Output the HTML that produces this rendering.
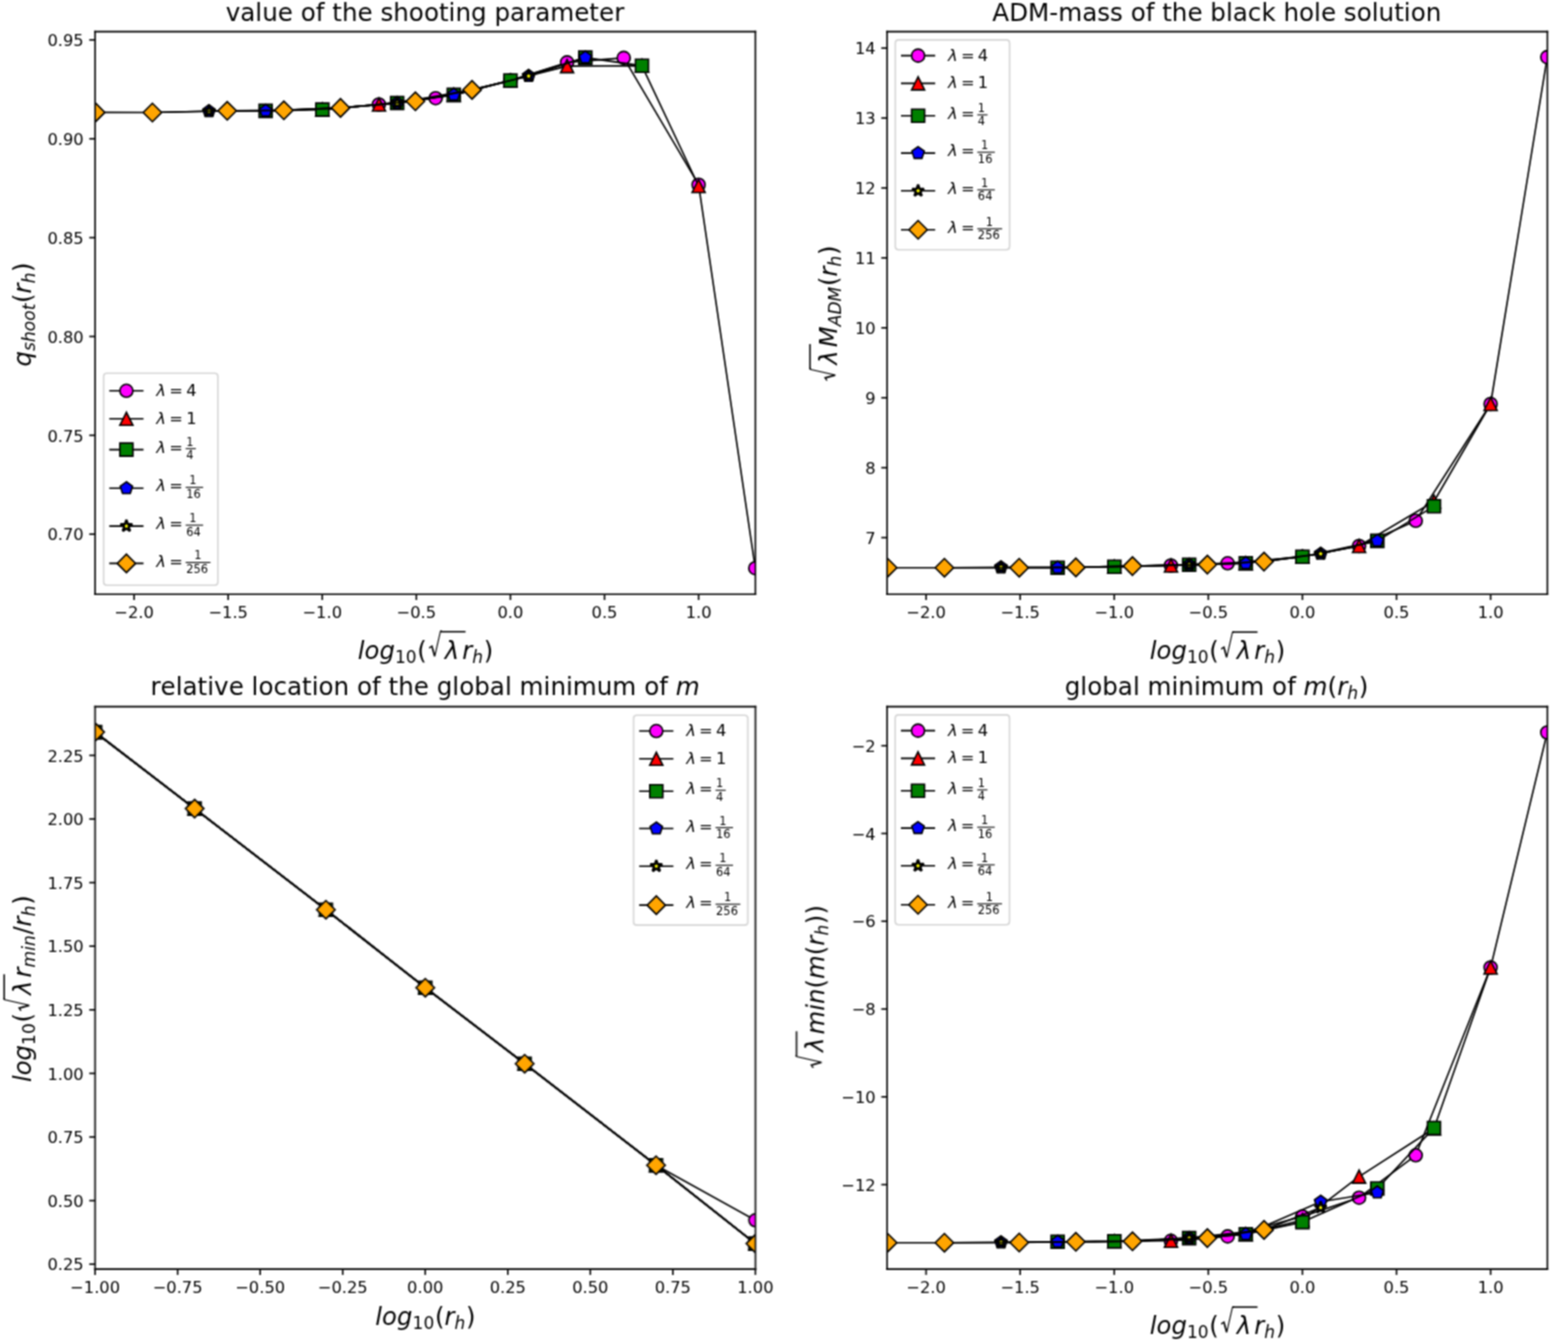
<!DOCTYPE html>
<html><head><meta charset="utf-8"><title>figure</title>
<style>html,body{margin:0;padding:0;background:#fff;}body{width:1550px;height:1340px;overflow:hidden;}svg{display:block;}#fig{width:1550px;height:1340px;}</style>
</head><body><div id="fig">
<svg width="1550" height="1340" viewBox="0 0 968.75 837.5" version="1.1">
<defs>
<style type="text/css">*{stroke-linejoin: round; stroke-linecap: butt}</style>
</defs>
<filter id="soft" x="0" y="0" width="968.75" height="837.5" filterUnits="userSpaceOnUse" color-interpolation-filters="sRGB"><feConvolveMatrix order="3" kernelMatrix="1 2 1 2 4 2 1 2 1" divisor="16" edgeMode="duplicate" kernelUnitLength="0.625"/></filter>
<g id="figure_1" filter="url(#soft)">
<g id="patch_1">
<path d="M 0 837.5 
L 968.75 837.5 
L 968.75 0 
L 0 0 
z
" style="fill: #ffffff"/>
</g>
<g id="axes_1">
<g id="patch_2">
<path d="M 59.4375 371.375 
L 472.125 371.375 
L 472.125 19.75 
L 59.4375 19.75 
z
" style="fill: #ffffff"/>
</g>
<g id="matplotlib.axis_1">
<g id="xtick_1">
<g id="line2d_1">
<defs>
<path id="m3d13556aa7" d="M 0 0 
L 0 3.625 
" style="stroke: #000000"/>
</defs>
<g>
<use href="#m3d13556aa7" x="83.805938" y="371.375" style="stroke: #000000"/>
</g>
</g>
<g id="text_1">
<text style="font-size: 10.1875px; font-family: 'DejaVu Sans', 'Liberation Sans', sans-serif; text-anchor: middle" x="83.805938" y="386.240908" transform="rotate(-0 83.805938 386.240908)">−2.0</text>
</g>
</g>
<g id="xtick_2">
<g id="line2d_2">
<g>
<use href="#m3d13556aa7" x="142.610085" y="371.375" style="stroke: #000000"/>
</g>
</g>
<g id="text_2">
<text style="font-size: 10.1875px; font-family: 'DejaVu Sans', 'Liberation Sans', sans-serif; text-anchor: middle" x="142.610085" y="386.240908" transform="rotate(-0 142.610085 386.240908)">−1.5</text>
</g>
</g>
<g id="xtick_3">
<g id="line2d_3">
<g>
<use href="#m3d13556aa7" x="201.414231" y="371.375" style="stroke: #000000"/>
</g>
</g>
<g id="text_3">
<text style="font-size: 10.1875px; font-family: 'DejaVu Sans', 'Liberation Sans', sans-serif; text-anchor: middle" x="201.414231" y="386.240908" transform="rotate(-0 201.414231 386.240908)">−1.0</text>
</g>
</g>
<g id="xtick_4">
<g id="line2d_4">
<g>
<use href="#m3d13556aa7" x="260.218378" y="371.375" style="stroke: #000000"/>
</g>
</g>
<g id="text_4">
<text style="font-size: 10.1875px; font-family: 'DejaVu Sans', 'Liberation Sans', sans-serif; text-anchor: middle" x="260.218378" y="386.240908" transform="rotate(-0 260.218378 386.240908)">−0.5</text>
</g>
</g>
<g id="xtick_5">
<g id="line2d_5">
<g>
<use href="#m3d13556aa7" x="319.022524" y="371.375" style="stroke: #000000"/>
</g>
</g>
<g id="text_5">
<text style="font-size: 10.1875px; font-family: 'DejaVu Sans', 'Liberation Sans', sans-serif; text-anchor: middle" x="319.022524" y="386.240908" transform="rotate(-0 319.022524 386.240908)">0.0</text>
</g>
</g>
<g id="xtick_6">
<g id="line2d_6">
<g>
<use href="#m3d13556aa7" x="377.826671" y="371.375" style="stroke: #000000"/>
</g>
</g>
<g id="text_6">
<text style="font-size: 10.1875px; font-family: 'DejaVu Sans', 'Liberation Sans', sans-serif; text-anchor: middle" x="377.826671" y="386.240908" transform="rotate(-0 377.826671 386.240908)">0.5</text>
</g>
</g>
<g id="xtick_7">
<g id="line2d_7">
<g>
<use href="#m3d13556aa7" x="436.630817" y="371.375" style="stroke: #000000"/>
</g>
</g>
<g id="text_7">
<text style="font-size: 10.1875px; font-family: 'DejaVu Sans', 'Liberation Sans', sans-serif; text-anchor: middle" x="436.630817" y="386.240908" transform="rotate(-0 436.630817 386.240908)">1.0</text>
</g>
</g>
</g>
<g id="matplotlib.axis_2">
<g id="ytick_1">
<g id="line2d_8">
<defs>
<path id="m3894075787" d="M 0 0 
L -3.625 0 
" style="stroke: #000000"/>
</defs>
<g>
<use href="#m3894075787" x="59.4375" y="333.875" style="stroke: #000000"/>
</g>
</g>
<g id="text_8">
<text style="font-size: 10.1875px; font-family: 'DejaVu Sans', 'Liberation Sans', sans-serif; text-anchor: end" x="52.3125" y="337.745454" transform="rotate(-0 52.3125 337.745454)">0.70</text>
</g>
</g>
<g id="ytick_2">
<g id="line2d_9">
<g>
<use href="#m3894075787" x="59.4375" y="272.0875" style="stroke: #000000"/>
</g>
</g>
<g id="text_9">
<text style="font-size: 10.1875px; font-family: 'DejaVu Sans', 'Liberation Sans', sans-serif; text-anchor: end" x="52.3125" y="275.957954" transform="rotate(-0 52.3125 275.957954)">0.75</text>
</g>
</g>
<g id="ytick_3">
<g id="line2d_10">
<g>
<use href="#m3894075787" x="59.4375" y="210.3" style="stroke: #000000"/>
</g>
</g>
<g id="text_10">
<text style="font-size: 10.1875px; font-family: 'DejaVu Sans', 'Liberation Sans', sans-serif; text-anchor: end" x="52.3125" y="214.170454" transform="rotate(-0 52.3125 214.170454)">0.80</text>
</g>
</g>
<g id="ytick_4">
<g id="line2d_11">
<g>
<use href="#m3894075787" x="59.4375" y="148.5125" style="stroke: #000000"/>
</g>
</g>
<g id="text_11">
<text style="font-size: 10.1875px; font-family: 'DejaVu Sans', 'Liberation Sans', sans-serif; text-anchor: end" x="52.3125" y="152.382954" transform="rotate(-0 52.3125 152.382954)">0.85</text>
</g>
</g>
<g id="ytick_5">
<g id="line2d_12">
<g>
<use href="#m3894075787" x="59.4375" y="86.725" style="stroke: #000000"/>
</g>
</g>
<g id="text_12">
<text style="font-size: 10.1875px; font-family: 'DejaVu Sans', 'Liberation Sans', sans-serif; text-anchor: end" x="52.3125" y="90.595454" transform="rotate(-0 52.3125 90.595454)">0.90</text>
</g>
</g>
<g id="ytick_6">
<g id="line2d_13">
<g>
<use href="#m3894075787" x="59.4375" y="24.9375" style="stroke: #000000"/>
</g>
</g>
<g id="text_13">
<text style="font-size: 10.1875px; font-family: 'DejaVu Sans', 'Liberation Sans', sans-serif; text-anchor: end" x="52.3125" y="28.807954" transform="rotate(-0 52.3125 28.807954)">0.95</text>
</g>
</g>
</g>
<g id="line2d_14">
<path d="M 236.817855 65.3125 
L 272.276756 61.375 
L 319.022524 50.3125 
L 354.426148 39 
L 389.829772 36.1875 
L 436.630817 115.4375 
L 472.034441 355.125 
" clip-path="url(#p4364399349)" style="fill: none; stroke: #000000; stroke-linecap: square"/>
<defs>
<path id="m82f85be40a" d="M 0 4.0625 
C 1.077388 4.0625 2.110793 3.634449 2.872621 2.872621 
C 3.634449 2.110793 4.0625 1.077388 4.0625 0 
C 4.0625 -1.077388 3.634449 -2.110793 2.872621 -2.872621 
C 2.110793 -3.634449 1.077388 -4.0625 0 -4.0625 
C -1.077388 -4.0625 -2.110793 -3.634449 -2.872621 -2.872621 
C -3.634449 -2.110793 -4.0625 -1.077388 -4.0625 0 
C -4.0625 1.077388 -3.634449 2.110793 -2.872621 2.872621 
C -2.110793 3.634449 -1.077388 4.0625 0 4.0625 
z
" style="stroke: #000000"/>
</defs>
<g clip-path="url(#p4364399349)">
<use href="#m82f85be40a" x="236.817855" y="65.3125" style="fill: #ff00ff; stroke: #000000"/>
<use href="#m82f85be40a" x="272.276756" y="61.375" style="fill: #ff00ff; stroke: #000000"/>
<use href="#m82f85be40a" x="319.022524" y="50.3125" style="fill: #ff00ff; stroke: #000000"/>
<use href="#m82f85be40a" x="354.426148" y="39" style="fill: #ff00ff; stroke: #000000"/>
<use href="#m82f85be40a" x="389.829772" y="36.1875" style="fill: #ff00ff; stroke: #000000"/>
<use href="#m82f85be40a" x="436.630817" y="115.4375" style="fill: #ff00ff; stroke: #000000"/>
<use href="#m82f85be40a" x="472.034441" y="355.125" style="fill: #ff00ff; stroke: #000000"/>
</g>
</g>
<g id="line2d_15">
<path d="M 201.414231 68.5 
L 236.873132 65.3125 
L 283.6189 59.3125 
L 319.022524 50.3125 
L 354.426148 41.3125 
L 401.227193 41.125 
L 436.630817 116.25 
" clip-path="url(#p4364399349)" style="fill: none; stroke: #000000; stroke-linecap: square"/>
<defs>
<path id="m113b32c53b" d="M 0 -4.0625 
L -4.0625 4.0625 
L 4.0625 4.0625 
z
" style="stroke: #000000; stroke-linejoin: miter"/>
</defs>
<g clip-path="url(#p4364399349)">
<use href="#m113b32c53b" x="201.414231" y="68.5" style="fill: #ff0000; stroke: #000000; stroke-linejoin: miter"/>
<use href="#m113b32c53b" x="236.873132" y="65.3125" style="fill: #ff0000; stroke: #000000; stroke-linejoin: miter"/>
<use href="#m113b32c53b" x="283.6189" y="59.3125" style="fill: #ff0000; stroke: #000000; stroke-linejoin: miter"/>
<use href="#m113b32c53b" x="319.022524" y="50.3125" style="fill: #ff0000; stroke: #000000; stroke-linejoin: miter"/>
<use href="#m113b32c53b" x="354.426148" y="41.3125" style="fill: #ff0000; stroke: #000000; stroke-linejoin: miter"/>
<use href="#m113b32c53b" x="401.227193" y="41.125" style="fill: #ff0000; stroke: #000000; stroke-linejoin: miter"/>
<use href="#m113b32c53b" x="436.630817" y="116.25" style="fill: #ff0000; stroke: #000000; stroke-linejoin: miter"/>
</g>
</g>
<g id="line2d_16">
<path d="M 166.010607 69.3125 
L 201.469508 68.5 
L 248.215276 64.375 
L 283.6189 59.3125 
L 319.022524 50.3125 
L 365.823569 36 
L 401.227193 41.125 
" clip-path="url(#p4364399349)" style="fill: none; stroke: #000000; stroke-linecap: square"/>
<defs>
<path id="m8e54c1c84e" d="M -4.0625 4.0625 
L 4.0625 4.0625 
L 4.0625 -4.0625 
L -4.0625 -4.0625 
z
" style="stroke: #000000; stroke-linejoin: miter"/>
</defs>
<g clip-path="url(#p4364399349)">
<use href="#m8e54c1c84e" x="166.010607" y="69.3125" style="fill: #008000; stroke: #000000; stroke-linejoin: miter"/>
<use href="#m8e54c1c84e" x="201.469508" y="68.5" style="fill: #008000; stroke: #000000; stroke-linejoin: miter"/>
<use href="#m8e54c1c84e" x="248.215276" y="64.375" style="fill: #008000; stroke: #000000; stroke-linejoin: miter"/>
<use href="#m8e54c1c84e" x="283.6189" y="59.3125" style="fill: #008000; stroke: #000000; stroke-linejoin: miter"/>
<use href="#m8e54c1c84e" x="319.022524" y="50.3125" style="fill: #008000; stroke: #000000; stroke-linejoin: miter"/>
<use href="#m8e54c1c84e" x="365.823569" y="36" style="fill: #008000; stroke: #000000; stroke-linejoin: miter"/>
<use href="#m8e54c1c84e" x="401.227193" y="41.125" style="fill: #008000; stroke: #000000; stroke-linejoin: miter"/>
</g>
</g>
<g id="line2d_17">
<path d="M 130.606983 69.5 
L 166.065884 69.3125 
L 212.811652 67.4375 
L 248.215276 64.375 
L 283.6189 59.3125 
L 330.419945 47.5 
L 365.823569 36 
" clip-path="url(#p4364399349)" style="fill: none; stroke: #000000; stroke-linecap: square"/>
<defs>
<path id="m39f650da0f" d="M 0 -4.0625 
L -3.863667 -1.255382 
L -2.387878 3.286632 
L 2.387878 3.286632 
L 3.863667 -1.255382 
z
" style="stroke: #000000; stroke-linejoin: miter"/>
</defs>
<g clip-path="url(#p4364399349)">
<use href="#m39f650da0f" x="130.606983" y="69.5" style="fill: #0000ff; stroke: #000000; stroke-linejoin: miter"/>
<use href="#m39f650da0f" x="166.065884" y="69.3125" style="fill: #0000ff; stroke: #000000; stroke-linejoin: miter"/>
<use href="#m39f650da0f" x="212.811652" y="67.4375" style="fill: #0000ff; stroke: #000000; stroke-linejoin: miter"/>
<use href="#m39f650da0f" x="248.215276" y="64.375" style="fill: #0000ff; stroke: #000000; stroke-linejoin: miter"/>
<use href="#m39f650da0f" x="283.6189" y="59.3125" style="fill: #0000ff; stroke: #000000; stroke-linejoin: miter"/>
<use href="#m39f650da0f" x="330.419945" y="47.5" style="fill: #0000ff; stroke: #000000; stroke-linejoin: miter"/>
<use href="#m39f650da0f" x="365.823569" y="36" style="fill: #0000ff; stroke: #000000; stroke-linejoin: miter"/>
</g>
</g>
<g id="line2d_18">
<path d="M 95.20336 70.3125 
L 130.66226 69.5 
L 177.408029 68.9375 
L 212.811652 67.4375 
L 248.215276 64.375 
L 295.016322 56.1875 
L 330.419945 47.5 
" clip-path="url(#p4364399349)" style="fill: none; stroke: #000000; stroke-linecap: square"/>
<defs>
<path id="maf8f67a855" d="M 0 -3.875 
L -0.869992 -1.197441 
L -3.685344 -1.197441 
L -1.407676 0.457382 
L -2.277668 3.134941 
L -0 1.480118 
L 2.277668 3.134941 
L 1.407676 0.457382 
L 3.685344 -1.197441 
L 0.869992 -1.197441 
z
" style="stroke: #000000; stroke-width: 1.5; stroke-linejoin: bevel"/>
</defs>
<g clip-path="url(#p4364399349)">
<use href="#maf8f67a855" x="95.20336" y="70.3125" style="fill: #ffff00; stroke: #000000; stroke-width: 1.5; stroke-linejoin: bevel"/>
<use href="#maf8f67a855" x="130.66226" y="69.5" style="fill: #ffff00; stroke: #000000; stroke-width: 1.5; stroke-linejoin: bevel"/>
<use href="#maf8f67a855" x="177.408029" y="68.9375" style="fill: #ffff00; stroke: #000000; stroke-width: 1.5; stroke-linejoin: bevel"/>
<use href="#maf8f67a855" x="212.811652" y="67.4375" style="fill: #ffff00; stroke: #000000; stroke-width: 1.5; stroke-linejoin: bevel"/>
<use href="#maf8f67a855" x="248.215276" y="64.375" style="fill: #ffff00; stroke: #000000; stroke-width: 1.5; stroke-linejoin: bevel"/>
<use href="#maf8f67a855" x="295.016322" y="56.1875" style="fill: #ffff00; stroke: #000000; stroke-width: 1.5; stroke-linejoin: bevel"/>
<use href="#maf8f67a855" x="330.419945" y="47.5" style="fill: #ffff00; stroke: #000000; stroke-width: 1.5; stroke-linejoin: bevel"/>
</g>
</g>
<g id="line2d_19">
<path d="M 59.799736 70.25 
L 95.258636 70.3125 
L 142.004405 69.25 
L 177.408029 68.9375 
L 212.811652 67.4375 
L 259.612698 63.3125 
L 295.016322 56.1875 
" clip-path="url(#p4364399349)" style="fill: none; stroke: #000000; stroke-linecap: square"/>
<defs>
<path id="ma61c840edb" d="M -0 5.745243 
L 5.745243 0 
L 0 -5.745243 
L -5.745243 -0 
z
" style="stroke: #000000; stroke-linejoin: miter"/>
</defs>
<g clip-path="url(#p4364399349)">
<use href="#ma61c840edb" x="59.799736" y="70.25" style="fill: #ffa500; stroke: #000000; stroke-linejoin: miter"/>
<use href="#ma61c840edb" x="95.258636" y="70.3125" style="fill: #ffa500; stroke: #000000; stroke-linejoin: miter"/>
<use href="#ma61c840edb" x="142.004405" y="69.25" style="fill: #ffa500; stroke: #000000; stroke-linejoin: miter"/>
<use href="#ma61c840edb" x="177.408029" y="68.9375" style="fill: #ffa500; stroke: #000000; stroke-linejoin: miter"/>
<use href="#ma61c840edb" x="212.811652" y="67.4375" style="fill: #ffa500; stroke: #000000; stroke-linejoin: miter"/>
<use href="#ma61c840edb" x="259.612698" y="63.3125" style="fill: #ffa500; stroke: #000000; stroke-linejoin: miter"/>
<use href="#ma61c840edb" x="295.016322" y="56.1875" style="fill: #ffa500; stroke: #000000; stroke-linejoin: miter"/>
</g>
</g>
<g id="patch_3">
<path d="M 59.4375 371.375 
L 59.4375 19.75 
" style="fill: none; stroke: #000000; stroke-linejoin: miter; stroke-linecap: square"/>
</g>
<g id="patch_4">
<path d="M 472.125 371.375 
L 472.125 19.75 
" style="fill: none; stroke: #000000; stroke-linejoin: miter; stroke-linecap: square"/>
</g>
<g id="patch_5">
<path d="M 59.4375 371.375 
L 472.125 371.375 
" style="fill: none; stroke: #000000; stroke-linejoin: miter; stroke-linecap: square"/>
</g>
<g id="patch_6">
<path d="M 59.4375 19.75 
L 472.125 19.75 
" style="fill: none; stroke: #000000; stroke-linejoin: miter; stroke-linecap: square"/>
</g>
</g>
<g id="axes_2">
<g id="patch_7">
<path d="M 554.4375 371.375 
L 967.125 371.375 
L 967.125 19.75 
L 554.4375 19.75 
z
" style="fill: #ffffff"/>
</g>
<g id="matplotlib.axis_3">
<g id="xtick_8">
<g id="line2d_20">
<g>
<use href="#m3d13556aa7" x="578.805938" y="371.375" style="stroke: #000000"/>
</g>
</g>
<g id="text_14">
<text style="font-size: 10.1875px; font-family: 'DejaVu Sans', 'Liberation Sans', sans-serif; text-anchor: middle" x="578.805938" y="386.240908" transform="rotate(-0 578.805938 386.240908)">−2.0</text>
</g>
</g>
<g id="xtick_9">
<g id="line2d_21">
<g>
<use href="#m3d13556aa7" x="637.610085" y="371.375" style="stroke: #000000"/>
</g>
</g>
<g id="text_15">
<text style="font-size: 10.1875px; font-family: 'DejaVu Sans', 'Liberation Sans', sans-serif; text-anchor: middle" x="637.610085" y="386.240908" transform="rotate(-0 637.610085 386.240908)">−1.5</text>
</g>
</g>
<g id="xtick_10">
<g id="line2d_22">
<g>
<use href="#m3d13556aa7" x="696.414231" y="371.375" style="stroke: #000000"/>
</g>
</g>
<g id="text_16">
<text style="font-size: 10.1875px; font-family: 'DejaVu Sans', 'Liberation Sans', sans-serif; text-anchor: middle" x="696.414231" y="386.240908" transform="rotate(-0 696.414231 386.240908)">−1.0</text>
</g>
</g>
<g id="xtick_11">
<g id="line2d_23">
<g>
<use href="#m3d13556aa7" x="755.218378" y="371.375" style="stroke: #000000"/>
</g>
</g>
<g id="text_17">
<text style="font-size: 10.1875px; font-family: 'DejaVu Sans', 'Liberation Sans', sans-serif; text-anchor: middle" x="755.218378" y="386.240908" transform="rotate(-0 755.218378 386.240908)">−0.5</text>
</g>
</g>
<g id="xtick_12">
<g id="line2d_24">
<g>
<use href="#m3d13556aa7" x="814.022524" y="371.375" style="stroke: #000000"/>
</g>
</g>
<g id="text_18">
<text style="font-size: 10.1875px; font-family: 'DejaVu Sans', 'Liberation Sans', sans-serif; text-anchor: middle" x="814.022524" y="386.240908" transform="rotate(-0 814.022524 386.240908)">0.0</text>
</g>
</g>
<g id="xtick_13">
<g id="line2d_25">
<g>
<use href="#m3d13556aa7" x="872.826671" y="371.375" style="stroke: #000000"/>
</g>
</g>
<g id="text_19">
<text style="font-size: 10.1875px; font-family: 'DejaVu Sans', 'Liberation Sans', sans-serif; text-anchor: middle" x="872.826671" y="386.240908" transform="rotate(-0 872.826671 386.240908)">0.5</text>
</g>
</g>
<g id="xtick_14">
<g id="line2d_26">
<g>
<use href="#m3d13556aa7" x="931.630817" y="371.375" style="stroke: #000000"/>
</g>
</g>
<g id="text_20">
<text style="font-size: 10.1875px; font-family: 'DejaVu Sans', 'Liberation Sans', sans-serif; text-anchor: middle" x="931.630817" y="386.240908" transform="rotate(-0 931.630817 386.240908)">1.0</text>
</g>
</g>
</g>
<g id="matplotlib.axis_4">
<g id="ytick_7">
<g id="line2d_27">
<g>
<use href="#m3894075787" x="554.4375" y="336" style="stroke: #000000"/>
</g>
</g>
<g id="text_21">
<text style="font-size: 10.1875px; font-family: 'DejaVu Sans', 'Liberation Sans', sans-serif; text-anchor: end" x="547.3125" y="339.870454" transform="rotate(-0 547.3125 339.870454)">7</text>
</g>
</g>
<g id="ytick_8">
<g id="line2d_28">
<g>
<use href="#m3894075787" x="554.4375" y="292.294643" style="stroke: #000000"/>
</g>
</g>
<g id="text_22">
<text style="font-size: 10.1875px; font-family: 'DejaVu Sans', 'Liberation Sans', sans-serif; text-anchor: end" x="547.3125" y="296.165097" transform="rotate(-0 547.3125 296.165097)">8</text>
</g>
</g>
<g id="ytick_9">
<g id="line2d_29">
<g>
<use href="#m3894075787" x="554.4375" y="248.589286" style="stroke: #000000"/>
</g>
</g>
<g id="text_23">
<text style="font-size: 10.1875px; font-family: 'DejaVu Sans', 'Liberation Sans', sans-serif; text-anchor: end" x="547.3125" y="252.45974" transform="rotate(-0 547.3125 252.45974)">9</text>
</g>
</g>
<g id="ytick_10">
<g id="line2d_30">
<g>
<use href="#m3894075787" x="554.4375" y="204.883929" style="stroke: #000000"/>
</g>
</g>
<g id="text_24">
<text style="font-size: 10.1875px; font-family: 'DejaVu Sans', 'Liberation Sans', sans-serif; text-anchor: end" x="547.3125" y="208.754383" transform="rotate(-0 547.3125 208.754383)">10</text>
</g>
</g>
<g id="ytick_11">
<g id="line2d_31">
<g>
<use href="#m3894075787" x="554.4375" y="161.178571" style="stroke: #000000"/>
</g>
</g>
<g id="text_25">
<text style="font-size: 10.1875px; font-family: 'DejaVu Sans', 'Liberation Sans', sans-serif; text-anchor: end" x="547.3125" y="165.049026" transform="rotate(-0 547.3125 165.049026)">11</text>
</g>
</g>
<g id="ytick_12">
<g id="line2d_32">
<g>
<use href="#m3894075787" x="554.4375" y="117.473214" style="stroke: #000000"/>
</g>
</g>
<g id="text_26">
<text style="font-size: 10.1875px; font-family: 'DejaVu Sans', 'Liberation Sans', sans-serif; text-anchor: end" x="547.3125" y="121.343668" transform="rotate(-0 547.3125 121.343668)">12</text>
</g>
</g>
<g id="ytick_13">
<g id="line2d_33">
<g>
<use href="#m3894075787" x="554.4375" y="73.767857" style="stroke: #000000"/>
</g>
</g>
<g id="text_27">
<text style="font-size: 10.1875px; font-family: 'DejaVu Sans', 'Liberation Sans', sans-serif; text-anchor: end" x="547.3125" y="77.638311" transform="rotate(-0 547.3125 77.638311)">13</text>
</g>
</g>
<g id="ytick_14">
<g id="line2d_34">
<g>
<use href="#m3894075787" x="554.4375" y="30.0625" style="stroke: #000000"/>
</g>
</g>
<g id="text_28">
<text style="font-size: 10.1875px; font-family: 'DejaVu Sans', 'Liberation Sans', sans-serif; text-anchor: end" x="547.3125" y="33.932954" transform="rotate(-0 547.3125 33.932954)">14</text>
</g>
</g>
</g>
<g id="line2d_35">
<path d="M 731.817855 353.4375 
L 767.276756 352.0625 
L 814.022524 347.9375 
L 849.426148 341.25 
L 884.829772 325.5 
L 931.630817 252.5 
L 967.034441 35.6875 
" clip-path="url(#pfdedd26349)" style="fill: none; stroke: #000000; stroke-linecap: square"/>
<g clip-path="url(#pfdedd26349)">
<use href="#m82f85be40a" x="731.817855" y="353.4375" style="fill: #ff00ff; stroke: #000000"/>
<use href="#m82f85be40a" x="767.276756" y="352.0625" style="fill: #ff00ff; stroke: #000000"/>
<use href="#m82f85be40a" x="814.022524" y="347.9375" style="fill: #ff00ff; stroke: #000000"/>
<use href="#m82f85be40a" x="849.426148" y="341.25" style="fill: #ff00ff; stroke: #000000"/>
<use href="#m82f85be40a" x="884.829772" y="325.5" style="fill: #ff00ff; stroke: #000000"/>
<use href="#m82f85be40a" x="931.630817" y="252.5" style="fill: #ff00ff; stroke: #000000"/>
<use href="#m82f85be40a" x="967.034441" y="35.6875" style="fill: #ff00ff; stroke: #000000"/>
</g>
</g>
<g id="line2d_36">
<path d="M 696.414231 354.1875 
L 731.873132 353.4375 
L 778.6189 352.0625 
L 814.022524 347.9375 
L 849.426148 341.25 
L 896.227193 313.4375 
L 931.630817 252.5 
" clip-path="url(#pfdedd26349)" style="fill: none; stroke: #000000; stroke-linecap: square"/>
<g clip-path="url(#pfdedd26349)">
<use href="#m113b32c53b" x="696.414231" y="354.1875" style="fill: #ff0000; stroke: #000000; stroke-linejoin: miter"/>
<use href="#m113b32c53b" x="731.873132" y="353.4375" style="fill: #ff0000; stroke: #000000; stroke-linejoin: miter"/>
<use href="#m113b32c53b" x="778.6189" y="352.0625" style="fill: #ff0000; stroke: #000000; stroke-linejoin: miter"/>
<use href="#m113b32c53b" x="814.022524" y="347.9375" style="fill: #ff0000; stroke: #000000; stroke-linejoin: miter"/>
<use href="#m113b32c53b" x="849.426148" y="341.25" style="fill: #ff0000; stroke: #000000; stroke-linejoin: miter"/>
<use href="#m113b32c53b" x="896.227193" y="313.4375" style="fill: #ff0000; stroke: #000000; stroke-linejoin: miter"/>
<use href="#m113b32c53b" x="931.630817" y="252.5" style="fill: #ff0000; stroke: #000000; stroke-linejoin: miter"/>
</g>
</g>
<g id="line2d_37">
<path d="M 661.010607 354.8125 
L 696.469508 354.1875 
L 743.215276 353 
L 778.6189 352.0625 
L 814.022524 347.9375 
L 860.823569 338.0625 
L 896.227193 316.4375 
" clip-path="url(#pfdedd26349)" style="fill: none; stroke: #000000; stroke-linecap: square"/>
<g clip-path="url(#pfdedd26349)">
<use href="#m8e54c1c84e" x="661.010607" y="354.8125" style="fill: #008000; stroke: #000000; stroke-linejoin: miter"/>
<use href="#m8e54c1c84e" x="696.469508" y="354.1875" style="fill: #008000; stroke: #000000; stroke-linejoin: miter"/>
<use href="#m8e54c1c84e" x="743.215276" y="353" style="fill: #008000; stroke: #000000; stroke-linejoin: miter"/>
<use href="#m8e54c1c84e" x="778.6189" y="352.0625" style="fill: #008000; stroke: #000000; stroke-linejoin: miter"/>
<use href="#m8e54c1c84e" x="814.022524" y="347.9375" style="fill: #008000; stroke: #000000; stroke-linejoin: miter"/>
<use href="#m8e54c1c84e" x="860.823569" y="338.0625" style="fill: #008000; stroke: #000000; stroke-linejoin: miter"/>
<use href="#m8e54c1c84e" x="896.227193" y="316.4375" style="fill: #008000; stroke: #000000; stroke-linejoin: miter"/>
</g>
</g>
<g id="line2d_38">
<path d="M 625.606983 354.625 
L 661.065884 354.8125 
L 707.811652 353.8125 
L 743.215276 353 
L 778.6189 352.0625 
L 825.419945 346.125 
L 860.823569 338.0625 
" clip-path="url(#pfdedd26349)" style="fill: none; stroke: #000000; stroke-linecap: square"/>
<g clip-path="url(#pfdedd26349)">
<use href="#m39f650da0f" x="625.606983" y="354.625" style="fill: #0000ff; stroke: #000000; stroke-linejoin: miter"/>
<use href="#m39f650da0f" x="661.065884" y="354.8125" style="fill: #0000ff; stroke: #000000; stroke-linejoin: miter"/>
<use href="#m39f650da0f" x="707.811652" y="353.8125" style="fill: #0000ff; stroke: #000000; stroke-linejoin: miter"/>
<use href="#m39f650da0f" x="743.215276" y="353" style="fill: #0000ff; stroke: #000000; stroke-linejoin: miter"/>
<use href="#m39f650da0f" x="778.6189" y="352.0625" style="fill: #0000ff; stroke: #000000; stroke-linejoin: miter"/>
<use href="#m39f650da0f" x="825.419945" y="346.125" style="fill: #0000ff; stroke: #000000; stroke-linejoin: miter"/>
<use href="#m39f650da0f" x="860.823569" y="338.0625" style="fill: #0000ff; stroke: #000000; stroke-linejoin: miter"/>
</g>
</g>
<g id="line2d_39">
<path d="M 590.20336 354.8125 
L 625.66226 354.625 
L 672.408029 354.625 
L 707.811652 353.8125 
L 743.215276 353 
L 790.016322 351 
L 825.419945 346.125 
" clip-path="url(#pfdedd26349)" style="fill: none; stroke: #000000; stroke-linecap: square"/>
<g clip-path="url(#pfdedd26349)">
<use href="#maf8f67a855" x="590.20336" y="354.8125" style="fill: #ffff00; stroke: #000000; stroke-width: 1.5; stroke-linejoin: bevel"/>
<use href="#maf8f67a855" x="625.66226" y="354.625" style="fill: #ffff00; stroke: #000000; stroke-width: 1.5; stroke-linejoin: bevel"/>
<use href="#maf8f67a855" x="672.408029" y="354.625" style="fill: #ffff00; stroke: #000000; stroke-width: 1.5; stroke-linejoin: bevel"/>
<use href="#maf8f67a855" x="707.811652" y="353.8125" style="fill: #ffff00; stroke: #000000; stroke-width: 1.5; stroke-linejoin: bevel"/>
<use href="#maf8f67a855" x="743.215276" y="353" style="fill: #ffff00; stroke: #000000; stroke-width: 1.5; stroke-linejoin: bevel"/>
<use href="#maf8f67a855" x="790.016322" y="351" style="fill: #ffff00; stroke: #000000; stroke-width: 1.5; stroke-linejoin: bevel"/>
<use href="#maf8f67a855" x="825.419945" y="346.125" style="fill: #ffff00; stroke: #000000; stroke-width: 1.5; stroke-linejoin: bevel"/>
</g>
</g>
<g id="line2d_40">
<path d="M 554.799736 354.8125 
L 590.258636 354.8125 
L 637.004405 354.8125 
L 672.408029 354.625 
L 707.811652 353.8125 
L 754.612698 352.875 
L 790.016322 351 
" clip-path="url(#pfdedd26349)" style="fill: none; stroke: #000000; stroke-linecap: square"/>
<g clip-path="url(#pfdedd26349)">
<use href="#ma61c840edb" x="554.799736" y="354.8125" style="fill: #ffa500; stroke: #000000; stroke-linejoin: miter"/>
<use href="#ma61c840edb" x="590.258636" y="354.8125" style="fill: #ffa500; stroke: #000000; stroke-linejoin: miter"/>
<use href="#ma61c840edb" x="637.004405" y="354.8125" style="fill: #ffa500; stroke: #000000; stroke-linejoin: miter"/>
<use href="#ma61c840edb" x="672.408029" y="354.625" style="fill: #ffa500; stroke: #000000; stroke-linejoin: miter"/>
<use href="#ma61c840edb" x="707.811652" y="353.8125" style="fill: #ffa500; stroke: #000000; stroke-linejoin: miter"/>
<use href="#ma61c840edb" x="754.612698" y="352.875" style="fill: #ffa500; stroke: #000000; stroke-linejoin: miter"/>
<use href="#ma61c840edb" x="790.016322" y="351" style="fill: #ffa500; stroke: #000000; stroke-linejoin: miter"/>
</g>
</g>
<g id="patch_8">
<path d="M 554.4375 371.375 
L 554.4375 19.75 
" style="fill: none; stroke: #000000; stroke-linejoin: miter; stroke-linecap: square"/>
</g>
<g id="patch_9">
<path d="M 967.125 371.375 
L 967.125 19.75 
" style="fill: none; stroke: #000000; stroke-linejoin: miter; stroke-linecap: square"/>
</g>
<g id="patch_10">
<path d="M 554.4375 371.375 
L 967.125 371.375 
" style="fill: none; stroke: #000000; stroke-linejoin: miter; stroke-linecap: square"/>
</g>
<g id="patch_11">
<path d="M 554.4375 19.75 
L 967.125 19.75 
" style="fill: none; stroke: #000000; stroke-linejoin: miter; stroke-linecap: square"/>
</g>
</g>
<g id="axes_3">
<g id="patch_12">
<path d="M 59.4375 793.1875 
L 472.125 793.1875 
L 472.125 441.625 
L 59.4375 441.625 
z
" style="fill: #ffffff"/>
</g>
<g id="matplotlib.axis_5">
<g id="xtick_15">
<g id="line2d_41">
<g>
<use href="#m3d13556aa7" x="59.4375" y="793.1875" style="stroke: #000000"/>
</g>
</g>
<g id="text_29">
<text style="font-size: 10.1875px; font-family: 'DejaVu Sans', 'Liberation Sans', sans-serif; text-anchor: middle" x="59.4375" y="808.053408" transform="rotate(-0 59.4375 808.053408)">−1.00</text>
</g>
</g>
<g id="xtick_16">
<g id="line2d_42">
<g>
<use href="#m3d13556aa7" x="111.023438" y="793.1875" style="stroke: #000000"/>
</g>
</g>
<g id="text_30">
<text style="font-size: 10.1875px; font-family: 'DejaVu Sans', 'Liberation Sans', sans-serif; text-anchor: middle" x="111.023438" y="808.053408" transform="rotate(-0 111.023438 808.053408)">−0.75</text>
</g>
</g>
<g id="xtick_17">
<g id="line2d_43">
<g>
<use href="#m3d13556aa7" x="162.609375" y="793.1875" style="stroke: #000000"/>
</g>
</g>
<g id="text_31">
<text style="font-size: 10.1875px; font-family: 'DejaVu Sans', 'Liberation Sans', sans-serif; text-anchor: middle" x="162.609375" y="808.053408" transform="rotate(-0 162.609375 808.053408)">−0.50</text>
</g>
</g>
<g id="xtick_18">
<g id="line2d_44">
<g>
<use href="#m3d13556aa7" x="214.195312" y="793.1875" style="stroke: #000000"/>
</g>
</g>
<g id="text_32">
<text style="font-size: 10.1875px; font-family: 'DejaVu Sans', 'Liberation Sans', sans-serif; text-anchor: middle" x="214.195312" y="808.053408" transform="rotate(-0 214.195312 808.053408)">−0.25</text>
</g>
</g>
<g id="xtick_19">
<g id="line2d_45">
<g>
<use href="#m3d13556aa7" x="265.78125" y="793.1875" style="stroke: #000000"/>
</g>
</g>
<g id="text_33">
<text style="font-size: 10.1875px; font-family: 'DejaVu Sans', 'Liberation Sans', sans-serif; text-anchor: middle" x="265.78125" y="808.053408" transform="rotate(-0 265.78125 808.053408)">0.00</text>
</g>
</g>
<g id="xtick_20">
<g id="line2d_46">
<g>
<use href="#m3d13556aa7" x="317.367188" y="793.1875" style="stroke: #000000"/>
</g>
</g>
<g id="text_34">
<text style="font-size: 10.1875px; font-family: 'DejaVu Sans', 'Liberation Sans', sans-serif; text-anchor: middle" x="317.367188" y="808.053408" transform="rotate(-0 317.367188 808.053408)">0.25</text>
</g>
</g>
<g id="xtick_21">
<g id="line2d_47">
<g>
<use href="#m3d13556aa7" x="368.953125" y="793.1875" style="stroke: #000000"/>
</g>
</g>
<g id="text_35">
<text style="font-size: 10.1875px; font-family: 'DejaVu Sans', 'Liberation Sans', sans-serif; text-anchor: middle" x="368.953125" y="808.053408" transform="rotate(-0 368.953125 808.053408)">0.50</text>
</g>
</g>
<g id="xtick_22">
<g id="line2d_48">
<g>
<use href="#m3d13556aa7" x="420.539062" y="793.1875" style="stroke: #000000"/>
</g>
</g>
<g id="text_36">
<text style="font-size: 10.1875px; font-family: 'DejaVu Sans', 'Liberation Sans', sans-serif; text-anchor: middle" x="420.539062" y="808.053408" transform="rotate(-0 420.539062 808.053408)">0.75</text>
</g>
</g>
<g id="xtick_23">
<g id="line2d_49">
<g>
<use href="#m3d13556aa7" x="472.125" y="793.1875" style="stroke: #000000"/>
</g>
</g>
<g id="text_37">
<text style="font-size: 10.1875px; font-family: 'DejaVu Sans', 'Liberation Sans', sans-serif; text-anchor: middle" x="472.125" y="808.053408" transform="rotate(-0 472.125 808.053408)">1.00</text>
</g>
</g>
</g>
<g id="matplotlib.axis_6">
<g id="ytick_15">
<g id="line2d_50">
<g>
<use href="#m3894075787" x="59.4375" y="790.125" style="stroke: #000000"/>
</g>
</g>
<g id="text_38">
<text style="font-size: 10.1875px; font-family: 'DejaVu Sans', 'Liberation Sans', sans-serif; text-anchor: end" x="52.3125" y="793.995454" transform="rotate(-0 52.3125 793.995454)">0.25</text>
</g>
</g>
<g id="ytick_16">
<g id="line2d_51">
<g>
<use href="#m3894075787" x="59.4375" y="750.375" style="stroke: #000000"/>
</g>
</g>
<g id="text_39">
<text style="font-size: 10.1875px; font-family: 'DejaVu Sans', 'Liberation Sans', sans-serif; text-anchor: end" x="52.3125" y="754.245454" transform="rotate(-0 52.3125 754.245454)">0.50</text>
</g>
</g>
<g id="ytick_17">
<g id="line2d_52">
<g>
<use href="#m3894075787" x="59.4375" y="710.625" style="stroke: #000000"/>
</g>
</g>
<g id="text_40">
<text style="font-size: 10.1875px; font-family: 'DejaVu Sans', 'Liberation Sans', sans-serif; text-anchor: end" x="52.3125" y="714.495454" transform="rotate(-0 52.3125 714.495454)">0.75</text>
</g>
</g>
<g id="ytick_18">
<g id="line2d_53">
<g>
<use href="#m3894075787" x="59.4375" y="670.875" style="stroke: #000000"/>
</g>
</g>
<g id="text_41">
<text style="font-size: 10.1875px; font-family: 'DejaVu Sans', 'Liberation Sans', sans-serif; text-anchor: end" x="52.3125" y="674.745454" transform="rotate(-0 52.3125 674.745454)">1.00</text>
</g>
</g>
<g id="ytick_19">
<g id="line2d_54">
<g>
<use href="#m3894075787" x="59.4375" y="631.125" style="stroke: #000000"/>
</g>
</g>
<g id="text_42">
<text style="font-size: 10.1875px; font-family: 'DejaVu Sans', 'Liberation Sans', sans-serif; text-anchor: end" x="52.3125" y="634.995454" transform="rotate(-0 52.3125 634.995454)">1.25</text>
</g>
</g>
<g id="ytick_20">
<g id="line2d_55">
<g>
<use href="#m3894075787" x="59.4375" y="591.375" style="stroke: #000000"/>
</g>
</g>
<g id="text_43">
<text style="font-size: 10.1875px; font-family: 'DejaVu Sans', 'Liberation Sans', sans-serif; text-anchor: end" x="52.3125" y="595.245454" transform="rotate(-0 52.3125 595.245454)">1.50</text>
</g>
</g>
<g id="ytick_21">
<g id="line2d_56">
<g>
<use href="#m3894075787" x="59.4375" y="551.625" style="stroke: #000000"/>
</g>
</g>
<g id="text_44">
<text style="font-size: 10.1875px; font-family: 'DejaVu Sans', 'Liberation Sans', sans-serif; text-anchor: end" x="52.3125" y="555.495454" transform="rotate(-0 52.3125 555.495454)">1.75</text>
</g>
</g>
<g id="ytick_22">
<g id="line2d_57">
<g>
<use href="#m3894075787" x="59.4375" y="511.875" style="stroke: #000000"/>
</g>
</g>
<g id="text_45">
<text style="font-size: 10.1875px; font-family: 'DejaVu Sans', 'Liberation Sans', sans-serif; text-anchor: end" x="52.3125" y="515.745454" transform="rotate(-0 52.3125 515.745454)">2.00</text>
</g>
</g>
<g id="ytick_23">
<g id="line2d_58">
<g>
<use href="#m3894075787" x="59.4375" y="472.125" style="stroke: #000000"/>
</g>
</g>
<g id="text_46">
<text style="font-size: 10.1875px; font-family: 'DejaVu Sans', 'Liberation Sans', sans-serif; text-anchor: end" x="52.3125" y="475.995454" transform="rotate(-0 52.3125 475.995454)">2.25</text>
</g>
</g>
</g>
<g id="line2d_59">
<path d="M 59.4375 457.5625 
L 121.650141 505.375 
L 203.665592 568.5625 
L 265.78125 617.3125 
L 327.896908 664.8125 
L 410.009342 728.25 
L 472.125 762.6875 
" clip-path="url(#pe15c4dde0f)" style="fill: none; stroke: #000000; stroke-linecap: square"/>
<g clip-path="url(#pe15c4dde0f)">
<use href="#m82f85be40a" x="59.4375" y="457.5625" style="fill: #ff00ff; stroke: #000000"/>
<use href="#m82f85be40a" x="121.650141" y="505.375" style="fill: #ff00ff; stroke: #000000"/>
<use href="#m82f85be40a" x="203.665592" y="568.5625" style="fill: #ff00ff; stroke: #000000"/>
<use href="#m82f85be40a" x="265.78125" y="617.3125" style="fill: #ff00ff; stroke: #000000"/>
<use href="#m82f85be40a" x="327.896908" y="664.8125" style="fill: #ff00ff; stroke: #000000"/>
<use href="#m82f85be40a" x="410.009342" y="728.25" style="fill: #ff00ff; stroke: #000000"/>
<use href="#m82f85be40a" x="472.125" y="762.6875" style="fill: #ff00ff; stroke: #000000"/>
</g>
</g>
<g id="line2d_60">
<path d="M 59.4375 457.5625 
L 121.650141 505.375 
L 203.665592 568.5625 
L 265.78125 617.3125 
L 327.896908 664.8125 
L 410.009342 728.25 
L 472.125 777.25 
" clip-path="url(#pe15c4dde0f)" style="fill: none; stroke: #000000; stroke-linecap: square"/>
<g clip-path="url(#pe15c4dde0f)">
<use href="#m113b32c53b" x="59.4375" y="457.5625" style="fill: #ff0000; stroke: #000000; stroke-linejoin: miter"/>
<use href="#m113b32c53b" x="121.650141" y="505.375" style="fill: #ff0000; stroke: #000000; stroke-linejoin: miter"/>
<use href="#m113b32c53b" x="203.665592" y="568.5625" style="fill: #ff0000; stroke: #000000; stroke-linejoin: miter"/>
<use href="#m113b32c53b" x="265.78125" y="617.3125" style="fill: #ff0000; stroke: #000000; stroke-linejoin: miter"/>
<use href="#m113b32c53b" x="327.896908" y="664.8125" style="fill: #ff0000; stroke: #000000; stroke-linejoin: miter"/>
<use href="#m113b32c53b" x="410.009342" y="728.25" style="fill: #ff0000; stroke: #000000; stroke-linejoin: miter"/>
<use href="#m113b32c53b" x="472.125" y="777.25" style="fill: #ff0000; stroke: #000000; stroke-linejoin: miter"/>
</g>
</g>
<g id="line2d_61">
<path d="M 59.4375 457.5625 
L 121.650141 505.375 
L 203.665592 568.5625 
L 265.78125 617.3125 
L 327.896908 664.8125 
L 410.009342 728.25 
L 472.125 777.25 
" clip-path="url(#pe15c4dde0f)" style="fill: none; stroke: #000000; stroke-linecap: square"/>
<g clip-path="url(#pe15c4dde0f)">
<use href="#m8e54c1c84e" x="59.4375" y="457.5625" style="fill: #008000; stroke: #000000; stroke-linejoin: miter"/>
<use href="#m8e54c1c84e" x="121.650141" y="505.375" style="fill: #008000; stroke: #000000; stroke-linejoin: miter"/>
<use href="#m8e54c1c84e" x="203.665592" y="568.5625" style="fill: #008000; stroke: #000000; stroke-linejoin: miter"/>
<use href="#m8e54c1c84e" x="265.78125" y="617.3125" style="fill: #008000; stroke: #000000; stroke-linejoin: miter"/>
<use href="#m8e54c1c84e" x="327.896908" y="664.8125" style="fill: #008000; stroke: #000000; stroke-linejoin: miter"/>
<use href="#m8e54c1c84e" x="410.009342" y="728.25" style="fill: #008000; stroke: #000000; stroke-linejoin: miter"/>
<use href="#m8e54c1c84e" x="472.125" y="777.25" style="fill: #008000; stroke: #000000; stroke-linejoin: miter"/>
</g>
</g>
<g id="line2d_62">
<path d="M 59.4375 457.5625 
L 121.650141 505.375 
L 203.665592 568.5625 
L 265.78125 617.3125 
L 327.896908 664.8125 
L 410.009342 728.25 
L 472.125 777.25 
" clip-path="url(#pe15c4dde0f)" style="fill: none; stroke: #000000; stroke-linecap: square"/>
<g clip-path="url(#pe15c4dde0f)">
<use href="#m39f650da0f" x="59.4375" y="457.5625" style="fill: #0000ff; stroke: #000000; stroke-linejoin: miter"/>
<use href="#m39f650da0f" x="121.650141" y="505.375" style="fill: #0000ff; stroke: #000000; stroke-linejoin: miter"/>
<use href="#m39f650da0f" x="203.665592" y="568.5625" style="fill: #0000ff; stroke: #000000; stroke-linejoin: miter"/>
<use href="#m39f650da0f" x="265.78125" y="617.3125" style="fill: #0000ff; stroke: #000000; stroke-linejoin: miter"/>
<use href="#m39f650da0f" x="327.896908" y="664.8125" style="fill: #0000ff; stroke: #000000; stroke-linejoin: miter"/>
<use href="#m39f650da0f" x="410.009342" y="728.25" style="fill: #0000ff; stroke: #000000; stroke-linejoin: miter"/>
<use href="#m39f650da0f" x="472.125" y="777.25" style="fill: #0000ff; stroke: #000000; stroke-linejoin: miter"/>
</g>
</g>
<g id="line2d_63">
<path d="M 59.4375 457.5625 
L 121.650141 505.375 
L 203.665592 568.5625 
L 265.78125 617.3125 
L 327.896908 664.8125 
L 410.009342 728.25 
L 472.125 777.25 
" clip-path="url(#pe15c4dde0f)" style="fill: none; stroke: #000000; stroke-linecap: square"/>
<g clip-path="url(#pe15c4dde0f)">
<use href="#maf8f67a855" x="59.4375" y="457.5625" style="fill: #ffff00; stroke: #000000; stroke-width: 1.5; stroke-linejoin: bevel"/>
<use href="#maf8f67a855" x="121.650141" y="505.375" style="fill: #ffff00; stroke: #000000; stroke-width: 1.5; stroke-linejoin: bevel"/>
<use href="#maf8f67a855" x="203.665592" y="568.5625" style="fill: #ffff00; stroke: #000000; stroke-width: 1.5; stroke-linejoin: bevel"/>
<use href="#maf8f67a855" x="265.78125" y="617.3125" style="fill: #ffff00; stroke: #000000; stroke-width: 1.5; stroke-linejoin: bevel"/>
<use href="#maf8f67a855" x="327.896908" y="664.8125" style="fill: #ffff00; stroke: #000000; stroke-width: 1.5; stroke-linejoin: bevel"/>
<use href="#maf8f67a855" x="410.009342" y="728.25" style="fill: #ffff00; stroke: #000000; stroke-width: 1.5; stroke-linejoin: bevel"/>
<use href="#maf8f67a855" x="472.125" y="777.25" style="fill: #ffff00; stroke: #000000; stroke-width: 1.5; stroke-linejoin: bevel"/>
</g>
</g>
<g id="line2d_64">
<path d="M 59.4375 457.5625 
L 121.650141 505.375 
L 203.665592 568.5625 
L 265.78125 617.3125 
L 327.896908 664.8125 
L 410.009342 728.25 
L 472.125 777.25 
" clip-path="url(#pe15c4dde0f)" style="fill: none; stroke: #000000; stroke-linecap: square"/>
<g clip-path="url(#pe15c4dde0f)">
<use href="#ma61c840edb" x="59.4375" y="457.5625" style="fill: #ffa500; stroke: #000000; stroke-linejoin: miter"/>
<use href="#ma61c840edb" x="121.650141" y="505.375" style="fill: #ffa500; stroke: #000000; stroke-linejoin: miter"/>
<use href="#ma61c840edb" x="203.665592" y="568.5625" style="fill: #ffa500; stroke: #000000; stroke-linejoin: miter"/>
<use href="#ma61c840edb" x="265.78125" y="617.3125" style="fill: #ffa500; stroke: #000000; stroke-linejoin: miter"/>
<use href="#ma61c840edb" x="327.896908" y="664.8125" style="fill: #ffa500; stroke: #000000; stroke-linejoin: miter"/>
<use href="#ma61c840edb" x="410.009342" y="728.25" style="fill: #ffa500; stroke: #000000; stroke-linejoin: miter"/>
<use href="#ma61c840edb" x="472.125" y="777.25" style="fill: #ffa500; stroke: #000000; stroke-linejoin: miter"/>
</g>
</g>
<g id="patch_13">
<path d="M 59.4375 793.1875 
L 59.4375 441.625 
" style="fill: none; stroke: #000000; stroke-linejoin: miter; stroke-linecap: square"/>
</g>
<g id="patch_14">
<path d="M 472.125 793.1875 
L 472.125 441.625 
" style="fill: none; stroke: #000000; stroke-linejoin: miter; stroke-linecap: square"/>
</g>
<g id="patch_15">
<path d="M 59.4375 793.1875 
L 472.125 793.1875 
" style="fill: none; stroke: #000000; stroke-linejoin: miter; stroke-linecap: square"/>
</g>
<g id="patch_16">
<path d="M 59.4375 441.625 
L 472.125 441.625 
" style="fill: none; stroke: #000000; stroke-linejoin: miter; stroke-linecap: square"/>
</g>
</g>
<g id="axes_4">
<g id="patch_17">
<path d="M 554.4375 793.1875 
L 967.125 793.1875 
L 967.125 441.625 
L 554.4375 441.625 
z
" style="fill: #ffffff"/>
</g>
<g id="matplotlib.axis_7">
<g id="xtick_24">
<g id="line2d_65">
<g>
<use href="#m3d13556aa7" x="578.805938" y="793.1875" style="stroke: #000000"/>
</g>
</g>
<g id="text_47">
<text style="font-size: 10.1875px; font-family: 'DejaVu Sans', 'Liberation Sans', sans-serif; text-anchor: middle" x="578.805938" y="808.053408" transform="rotate(-0 578.805938 808.053408)">−2.0</text>
</g>
</g>
<g id="xtick_25">
<g id="line2d_66">
<g>
<use href="#m3d13556aa7" x="637.610085" y="793.1875" style="stroke: #000000"/>
</g>
</g>
<g id="text_48">
<text style="font-size: 10.1875px; font-family: 'DejaVu Sans', 'Liberation Sans', sans-serif; text-anchor: middle" x="637.610085" y="808.053408" transform="rotate(-0 637.610085 808.053408)">−1.5</text>
</g>
</g>
<g id="xtick_26">
<g id="line2d_67">
<g>
<use href="#m3d13556aa7" x="696.414231" y="793.1875" style="stroke: #000000"/>
</g>
</g>
<g id="text_49">
<text style="font-size: 10.1875px; font-family: 'DejaVu Sans', 'Liberation Sans', sans-serif; text-anchor: middle" x="696.414231" y="808.053408" transform="rotate(-0 696.414231 808.053408)">−1.0</text>
</g>
</g>
<g id="xtick_27">
<g id="line2d_68">
<g>
<use href="#m3d13556aa7" x="755.218378" y="793.1875" style="stroke: #000000"/>
</g>
</g>
<g id="text_50">
<text style="font-size: 10.1875px; font-family: 'DejaVu Sans', 'Liberation Sans', sans-serif; text-anchor: middle" x="755.218378" y="808.053408" transform="rotate(-0 755.218378 808.053408)">−0.5</text>
</g>
</g>
<g id="xtick_28">
<g id="line2d_69">
<g>
<use href="#m3d13556aa7" x="814.022524" y="793.1875" style="stroke: #000000"/>
</g>
</g>
<g id="text_51">
<text style="font-size: 10.1875px; font-family: 'DejaVu Sans', 'Liberation Sans', sans-serif; text-anchor: middle" x="814.022524" y="808.053408" transform="rotate(-0 814.022524 808.053408)">0.0</text>
</g>
</g>
<g id="xtick_29">
<g id="line2d_70">
<g>
<use href="#m3d13556aa7" x="872.826671" y="793.1875" style="stroke: #000000"/>
</g>
</g>
<g id="text_52">
<text style="font-size: 10.1875px; font-family: 'DejaVu Sans', 'Liberation Sans', sans-serif; text-anchor: middle" x="872.826671" y="808.053408" transform="rotate(-0 872.826671 808.053408)">0.5</text>
</g>
</g>
<g id="xtick_30">
<g id="line2d_71">
<g>
<use href="#m3d13556aa7" x="931.630817" y="793.1875" style="stroke: #000000"/>
</g>
</g>
<g id="text_53">
<text style="font-size: 10.1875px; font-family: 'DejaVu Sans', 'Liberation Sans', sans-serif; text-anchor: middle" x="931.630817" y="808.053408" transform="rotate(-0 931.630817 808.053408)">1.0</text>
</g>
</g>
</g>
<g id="matplotlib.axis_8">
<g id="ytick_24">
<g id="line2d_72">
<g>
<use href="#m3894075787" x="554.4375" y="740.375" style="stroke: #000000"/>
</g>
</g>
<g id="text_54">
<text style="font-size: 10.1875px; font-family: 'DejaVu Sans', 'Liberation Sans', sans-serif; text-anchor: end" x="547.3125" y="744.245454" transform="rotate(-0 547.3125 744.245454)">−12</text>
</g>
</g>
<g id="ytick_25">
<g id="line2d_73">
<g>
<use href="#m3894075787" x="554.4375" y="685.5125" style="stroke: #000000"/>
</g>
</g>
<g id="text_55">
<text style="font-size: 10.1875px; font-family: 'DejaVu Sans', 'Liberation Sans', sans-serif; text-anchor: end" x="547.3125" y="689.382954" transform="rotate(-0 547.3125 689.382954)">−10</text>
</g>
</g>
<g id="ytick_26">
<g id="line2d_74">
<g>
<use href="#m3894075787" x="554.4375" y="630.65" style="stroke: #000000"/>
</g>
</g>
<g id="text_56">
<text style="font-size: 10.1875px; font-family: 'DejaVu Sans', 'Liberation Sans', sans-serif; text-anchor: end" x="547.3125" y="634.520454" transform="rotate(-0 547.3125 634.520454)">−8</text>
</g>
</g>
<g id="ytick_27">
<g id="line2d_75">
<g>
<use href="#m3894075787" x="554.4375" y="575.7875" style="stroke: #000000"/>
</g>
</g>
<g id="text_57">
<text style="font-size: 10.1875px; font-family: 'DejaVu Sans', 'Liberation Sans', sans-serif; text-anchor: end" x="547.3125" y="579.657954" transform="rotate(-0 547.3125 579.657954)">−6</text>
</g>
</g>
<g id="ytick_28">
<g id="line2d_76">
<g>
<use href="#m3894075787" x="554.4375" y="520.925" style="stroke: #000000"/>
</g>
</g>
<g id="text_58">
<text style="font-size: 10.1875px; font-family: 'DejaVu Sans', 'Liberation Sans', sans-serif; text-anchor: end" x="547.3125" y="524.795454" transform="rotate(-0 547.3125 524.795454)">−4</text>
</g>
</g>
<g id="ytick_29">
<g id="line2d_77">
<g>
<use href="#m3894075787" x="554.4375" y="466.0625" style="stroke: #000000"/>
</g>
</g>
<g id="text_59">
<text style="font-size: 10.1875px; font-family: 'DejaVu Sans', 'Liberation Sans', sans-serif; text-anchor: end" x="547.3125" y="469.932954" transform="rotate(-0 547.3125 469.932954)">−2</text>
</g>
</g>
</g>
<g id="line2d_78">
<path d="M 731.817855 775.5 
L 767.276756 772.75 
L 814.022524 760.3125 
L 849.426148 748.5625 
L 884.829772 722.0625 
L 931.630817 604.6875 
L 967.034441 457.8125 
" clip-path="url(#pc6f23633e6)" style="fill: none; stroke: #000000; stroke-linecap: square"/>
<g clip-path="url(#pc6f23633e6)">
<use href="#m82f85be40a" x="731.817855" y="775.5" style="fill: #ff00ff; stroke: #000000"/>
<use href="#m82f85be40a" x="767.276756" y="772.75" style="fill: #ff00ff; stroke: #000000"/>
<use href="#m82f85be40a" x="814.022524" y="760.3125" style="fill: #ff00ff; stroke: #000000"/>
<use href="#m82f85be40a" x="849.426148" y="748.5625" style="fill: #ff00ff; stroke: #000000"/>
<use href="#m82f85be40a" x="884.829772" y="722.0625" style="fill: #ff00ff; stroke: #000000"/>
<use href="#m82f85be40a" x="931.630817" y="604.6875" style="fill: #ff00ff; stroke: #000000"/>
<use href="#m82f85be40a" x="967.034441" y="457.8125" style="fill: #ff00ff; stroke: #000000"/>
</g>
</g>
<g id="line2d_79">
<path d="M 696.414231 775.8125 
L 731.873132 775.5 
L 778.6189 771.375 
L 814.022524 762.5 
L 849.426148 735.375 
L 896.227193 705.3125 
L 931.630817 604.6875 
" clip-path="url(#pc6f23633e6)" style="fill: none; stroke: #000000; stroke-linecap: square"/>
<g clip-path="url(#pc6f23633e6)">
<use href="#m113b32c53b" x="696.414231" y="775.8125" style="fill: #ff0000; stroke: #000000; stroke-linejoin: miter"/>
<use href="#m113b32c53b" x="731.873132" y="775.5" style="fill: #ff0000; stroke: #000000; stroke-linejoin: miter"/>
<use href="#m113b32c53b" x="778.6189" y="771.375" style="fill: #ff0000; stroke: #000000; stroke-linejoin: miter"/>
<use href="#m113b32c53b" x="814.022524" y="762.5" style="fill: #ff0000; stroke: #000000; stroke-linejoin: miter"/>
<use href="#m113b32c53b" x="849.426148" y="735.375" style="fill: #ff0000; stroke: #000000; stroke-linejoin: miter"/>
<use href="#m113b32c53b" x="896.227193" y="705.3125" style="fill: #ff0000; stroke: #000000; stroke-linejoin: miter"/>
<use href="#m113b32c53b" x="931.630817" y="604.6875" style="fill: #ff0000; stroke: #000000; stroke-linejoin: miter"/>
</g>
</g>
<g id="line2d_80">
<path d="M 661.010607 776.125 
L 696.469508 775.8125 
L 743.215276 773.8125 
L 778.6189 771.375 
L 814.022524 763.8125 
L 860.823569 742.8125 
L 896.227193 705 
" clip-path="url(#pc6f23633e6)" style="fill: none; stroke: #000000; stroke-linecap: square"/>
<g clip-path="url(#pc6f23633e6)">
<use href="#m8e54c1c84e" x="661.010607" y="776.125" style="fill: #008000; stroke: #000000; stroke-linejoin: miter"/>
<use href="#m8e54c1c84e" x="696.469508" y="775.8125" style="fill: #008000; stroke: #000000; stroke-linejoin: miter"/>
<use href="#m8e54c1c84e" x="743.215276" y="773.8125" style="fill: #008000; stroke: #000000; stroke-linejoin: miter"/>
<use href="#m8e54c1c84e" x="778.6189" y="771.375" style="fill: #008000; stroke: #000000; stroke-linejoin: miter"/>
<use href="#m8e54c1c84e" x="814.022524" y="763.8125" style="fill: #008000; stroke: #000000; stroke-linejoin: miter"/>
<use href="#m8e54c1c84e" x="860.823569" y="742.8125" style="fill: #008000; stroke: #000000; stroke-linejoin: miter"/>
<use href="#m8e54c1c84e" x="896.227193" y="705" style="fill: #008000; stroke: #000000; stroke-linejoin: miter"/>
</g>
</g>
<g id="line2d_81">
<path d="M 625.606983 776.5 
L 661.065884 776.125 
L 707.811652 775.8125 
L 743.215276 773.8125 
L 778.6189 771.375 
L 825.419945 751.125 
L 860.823569 745.3125 
" clip-path="url(#pc6f23633e6)" style="fill: none; stroke: #000000; stroke-linecap: square"/>
<g clip-path="url(#pc6f23633e6)">
<use href="#m39f650da0f" x="625.606983" y="776.5" style="fill: #0000ff; stroke: #000000; stroke-linejoin: miter"/>
<use href="#m39f650da0f" x="661.065884" y="776.125" style="fill: #0000ff; stroke: #000000; stroke-linejoin: miter"/>
<use href="#m39f650da0f" x="707.811652" y="775.8125" style="fill: #0000ff; stroke: #000000; stroke-linejoin: miter"/>
<use href="#m39f650da0f" x="743.215276" y="773.8125" style="fill: #0000ff; stroke: #000000; stroke-linejoin: miter"/>
<use href="#m39f650da0f" x="778.6189" y="771.375" style="fill: #0000ff; stroke: #000000; stroke-linejoin: miter"/>
<use href="#m39f650da0f" x="825.419945" y="751.125" style="fill: #0000ff; stroke: #000000; stroke-linejoin: miter"/>
<use href="#m39f650da0f" x="860.823569" y="745.3125" style="fill: #0000ff; stroke: #000000; stroke-linejoin: miter"/>
</g>
</g>
<g id="line2d_82">
<path d="M 590.20336 776.6875 
L 625.66226 776.5 
L 672.408029 776.125 
L 707.811652 775.8125 
L 743.215276 773.8125 
L 790.016322 768.6875 
L 825.419945 754.75 
" clip-path="url(#pc6f23633e6)" style="fill: none; stroke: #000000; stroke-linecap: square"/>
<g clip-path="url(#pc6f23633e6)">
<use href="#maf8f67a855" x="590.20336" y="776.6875" style="fill: #ffff00; stroke: #000000; stroke-width: 1.5; stroke-linejoin: bevel"/>
<use href="#maf8f67a855" x="625.66226" y="776.5" style="fill: #ffff00; stroke: #000000; stroke-width: 1.5; stroke-linejoin: bevel"/>
<use href="#maf8f67a855" x="672.408029" y="776.125" style="fill: #ffff00; stroke: #000000; stroke-width: 1.5; stroke-linejoin: bevel"/>
<use href="#maf8f67a855" x="707.811652" y="775.8125" style="fill: #ffff00; stroke: #000000; stroke-width: 1.5; stroke-linejoin: bevel"/>
<use href="#maf8f67a855" x="743.215276" y="773.8125" style="fill: #ffff00; stroke: #000000; stroke-width: 1.5; stroke-linejoin: bevel"/>
<use href="#maf8f67a855" x="790.016322" y="768.6875" style="fill: #ffff00; stroke: #000000; stroke-width: 1.5; stroke-linejoin: bevel"/>
<use href="#maf8f67a855" x="825.419945" y="754.75" style="fill: #ffff00; stroke: #000000; stroke-width: 1.5; stroke-linejoin: bevel"/>
</g>
</g>
<g id="line2d_83">
<path d="M 554.799736 776.6875 
L 590.258636 776.6875 
L 637.004405 776.5625 
L 672.408029 776.125 
L 707.811652 775.8125 
L 754.612698 773.8125 
L 790.016322 768.6875 
" clip-path="url(#pc6f23633e6)" style="fill: none; stroke: #000000; stroke-linecap: square"/>
<g clip-path="url(#pc6f23633e6)">
<use href="#ma61c840edb" x="554.799736" y="776.6875" style="fill: #ffa500; stroke: #000000; stroke-linejoin: miter"/>
<use href="#ma61c840edb" x="590.258636" y="776.6875" style="fill: #ffa500; stroke: #000000; stroke-linejoin: miter"/>
<use href="#ma61c840edb" x="637.004405" y="776.5625" style="fill: #ffa500; stroke: #000000; stroke-linejoin: miter"/>
<use href="#ma61c840edb" x="672.408029" y="776.125" style="fill: #ffa500; stroke: #000000; stroke-linejoin: miter"/>
<use href="#ma61c840edb" x="707.811652" y="775.8125" style="fill: #ffa500; stroke: #000000; stroke-linejoin: miter"/>
<use href="#ma61c840edb" x="754.612698" y="773.8125" style="fill: #ffa500; stroke: #000000; stroke-linejoin: miter"/>
<use href="#ma61c840edb" x="790.016322" y="768.6875" style="fill: #ffa500; stroke: #000000; stroke-linejoin: miter"/>
</g>
</g>
<g id="patch_18">
<path d="M 554.4375 793.1875 
L 554.4375 441.625 
" style="fill: none; stroke: #000000; stroke-linejoin: miter; stroke-linecap: square"/>
</g>
<g id="patch_19">
<path d="M 967.125 793.1875 
L 967.125 441.625 
" style="fill: none; stroke: #000000; stroke-linejoin: miter; stroke-linecap: square"/>
</g>
<g id="patch_20">
<path d="M 554.4375 793.1875 
L 967.125 793.1875 
" style="fill: none; stroke: #000000; stroke-linejoin: miter; stroke-linecap: square"/>
</g>
<g id="patch_21">
<path d="M 554.4375 441.625 
L 967.125 441.625 
" style="fill: none; stroke: #000000; stroke-linejoin: miter; stroke-linecap: square"/>
</g>
</g>
<g id="patch_22">
<path d="M 66.787281 365.8125 
L 134.150219 365.8125 
Q 136.1875 365.8125 136.1875 363.775219 
L 136.1875 235.349781 
Q 136.1875 233.3125 134.150219 233.3125 
L 66.787281 233.3125 
Q 64.75 233.3125 64.75 235.349781 
L 64.75 363.775219 
Q 64.75 365.8125 66.787281 365.8125 
z
" style="fill: #ffffff; opacity: 0.8; stroke: #cccccc; stroke-linejoin: miter"/>
</g>
<g id="patch_23">
<path d="M 561.599781 156.09375 
L 628.962719 156.09375 
Q 631 156.09375 631 154.056469 
L 631 26.974781 
Q 631 24.9375 628.962719 24.9375 
L 561.599781 24.9375 
Q 559.5625 24.9375 559.5625 26.974781 
L 559.5625 154.056469 
Q 559.5625 156.09375 561.599781 156.09375 
z
" style="fill: #ffffff; opacity: 0.8; stroke: #cccccc; stroke-linejoin: miter"/>
</g>
<g id="patch_24">
<path d="M 397.974781 578.21875 
L 465.337719 578.21875 
Q 467.375 578.21875 467.375 576.181469 
L 467.375 449.099781 
Q 467.375 447.0625 465.337719 447.0625 
L 397.974781 447.0625 
Q 395.9375 447.0625 395.9375 449.099781 
L 395.9375 576.181469 
Q 395.9375 578.21875 397.974781 578.21875 
z
" style="fill: #ffffff; opacity: 0.8; stroke: #cccccc; stroke-linejoin: miter"/>
</g>
<g id="patch_25">
<path d="M 561.537281 577.96875 
L 628.900219 577.96875 
Q 630.9375 577.96875 630.9375 575.931469 
L 630.9375 448.849781 
Q 630.9375 446.8125 628.900219 446.8125 
L 561.537281 446.8125 
Q 559.5 446.8125 559.5 448.849781 
L 559.5 575.931469 
Q 559.5 577.96875 561.537281 577.96875 
z
" style="fill: #ffffff; opacity: 0.8; stroke: #cccccc; stroke-linejoin: miter"/>
</g>
<g id="line2d_84">
<path d="M 68.8125 244.25 
L 89.1875 244.25 
" style="fill: none; stroke: #000000; stroke-linecap: square"/>
</g>
<g id="line2d_85">
<path d="M 68.8125 261.75 
L 89.1875 261.75 
" style="fill: none; stroke: #000000; stroke-linecap: square"/>
</g>
<g id="line2d_86">
<path d="M 68.8125 281 
L 89.1875 281 
" style="fill: none; stroke: #000000; stroke-linecap: square"/>
</g>
<g id="line2d_87">
<path d="M 68.8125 305.1875 
L 89.1875 305.1875 
" style="fill: none; stroke: #000000; stroke-linecap: square"/>
</g>
<g id="line2d_88">
<path d="M 68.8125 328.8125 
L 89.1875 328.8125 
" style="fill: none; stroke: #000000; stroke-linecap: square"/>
</g>
<g id="line2d_89">
<path d="M 68.8125 352.125 
L 89.1875 352.125 
" style="fill: none; stroke: #000000; stroke-linecap: square"/>
</g>
<g id="line2d_90">
<path d="M 563.625 34.78125 
L 584 34.78125 
" style="fill: none; stroke: #000000; stroke-linecap: square"/>
</g>
<g id="line2d_91">
<path d="M 563.625 52.125 
L 584 52.125 
" style="fill: none; stroke: #000000; stroke-linecap: square"/>
</g>
<g id="line2d_92">
<path d="M 563.625 72.375 
L 584 72.375 
" style="fill: none; stroke: #000000; stroke-linecap: square"/>
</g>
<g id="line2d_93">
<path d="M 563.625 95.71875 
L 584 95.71875 
" style="fill: none; stroke: #000000; stroke-linecap: square"/>
</g>
<g id="line2d_94">
<path d="M 563.625 119.25 
L 584 119.25 
" style="fill: none; stroke: #000000; stroke-linecap: square"/>
</g>
<g id="line2d_95">
<path d="M 563.625 143.59375 
L 584 143.59375 
" style="fill: none; stroke: #000000; stroke-linecap: square"/>
</g>
<g id="line2d_96">
<path d="M 400 456.90625 
L 420.375 456.90625 
" style="fill: none; stroke: #000000; stroke-linecap: square"/>
</g>
<g id="line2d_97">
<path d="M 400 474.25 
L 420.375 474.25 
" style="fill: none; stroke: #000000; stroke-linecap: square"/>
</g>
<g id="line2d_98">
<path d="M 400 494.5 
L 420.375 494.5 
" style="fill: none; stroke: #000000; stroke-linecap: square"/>
</g>
<g id="line2d_99">
<path d="M 400 517.84375 
L 420.375 517.84375 
" style="fill: none; stroke: #000000; stroke-linecap: square"/>
</g>
<g id="line2d_100">
<path d="M 400 541.375 
L 420.375 541.375 
" style="fill: none; stroke: #000000; stroke-linecap: square"/>
</g>
<g id="line2d_101">
<path d="M 400 565.71875 
L 420.375 565.71875 
" style="fill: none; stroke: #000000; stroke-linecap: square"/>
</g>
<g id="line2d_102">
<path d="M 563.5625 456.65625 
L 583.9375 456.65625 
" style="fill: none; stroke: #000000; stroke-linecap: square"/>
</g>
<g id="line2d_103">
<path d="M 563.5625 474 
L 583.9375 474 
" style="fill: none; stroke: #000000; stroke-linecap: square"/>
</g>
<g id="line2d_104">
<path d="M 563.5625 494.25 
L 583.9375 494.25 
" style="fill: none; stroke: #000000; stroke-linecap: square"/>
</g>
<g id="line2d_105">
<path d="M 563.5625 517.59375 
L 583.9375 517.59375 
" style="fill: none; stroke: #000000; stroke-linecap: square"/>
</g>
<g id="line2d_106">
<path d="M 563.5625 541.125 
L 583.9375 541.125 
" style="fill: none; stroke: #000000; stroke-linecap: square"/>
</g>
<g id="line2d_107">
<path d="M 563.5625 565.46875 
L 583.9375 565.46875 
" style="fill: none; stroke: #000000; stroke-linecap: square"/>
</g>
<g id="line2d_108">
<g>
<use href="#m82f85be40a" x="79" y="244.25" style="fill: #ff00ff; stroke: #000000"/>
</g>
</g>
<g id="line2d_109">
<g>
<use href="#m113b32c53b" x="79" y="261.75" style="fill: #ff0000; stroke: #000000; stroke-linejoin: miter"/>
</g>
</g>
<g id="line2d_110">
<g>
<use href="#m8e54c1c84e" x="79" y="281" style="fill: #008000; stroke: #000000; stroke-linejoin: miter"/>
</g>
</g>
<g id="line2d_111">
<g>
<use href="#m39f650da0f" x="79" y="305.1875" style="fill: #0000ff; stroke: #000000; stroke-linejoin: miter"/>
</g>
</g>
<g id="line2d_112">
<g>
<use href="#maf8f67a855" x="79" y="328.8125" style="fill: #ffff00; stroke: #000000; stroke-width: 1.5; stroke-linejoin: bevel"/>
</g>
</g>
<g id="line2d_113">
<g>
<use href="#ma61c840edb" x="79" y="352.125" style="fill: #ffa500; stroke: #000000; stroke-linejoin: miter"/>
</g>
</g>
<g id="line2d_114">
<g>
<use href="#m82f85be40a" x="573.8125" y="34.78125" style="fill: #ff00ff; stroke: #000000"/>
</g>
</g>
<g id="line2d_115">
<g>
<use href="#m113b32c53b" x="573.8125" y="52.125" style="fill: #ff0000; stroke: #000000; stroke-linejoin: miter"/>
</g>
</g>
<g id="line2d_116">
<g>
<use href="#m8e54c1c84e" x="573.8125" y="72.375" style="fill: #008000; stroke: #000000; stroke-linejoin: miter"/>
</g>
</g>
<g id="line2d_117">
<g>
<use href="#m39f650da0f" x="573.8125" y="95.71875" style="fill: #0000ff; stroke: #000000; stroke-linejoin: miter"/>
</g>
</g>
<g id="line2d_118">
<g>
<use href="#maf8f67a855" x="573.8125" y="119.25" style="fill: #ffff00; stroke: #000000; stroke-width: 1.5; stroke-linejoin: bevel"/>
</g>
</g>
<g id="line2d_119">
<g>
<use href="#ma61c840edb" x="573.8125" y="143.59375" style="fill: #ffa500; stroke: #000000; stroke-linejoin: miter"/>
</g>
</g>
<g id="line2d_120">
<g>
<use href="#m82f85be40a" x="410.1875" y="456.90625" style="fill: #ff00ff; stroke: #000000"/>
</g>
</g>
<g id="line2d_121">
<g>
<use href="#m113b32c53b" x="410.1875" y="474.25" style="fill: #ff0000; stroke: #000000; stroke-linejoin: miter"/>
</g>
</g>
<g id="line2d_122">
<g>
<use href="#m8e54c1c84e" x="410.1875" y="494.5" style="fill: #008000; stroke: #000000; stroke-linejoin: miter"/>
</g>
</g>
<g id="line2d_123">
<g>
<use href="#m39f650da0f" x="410.1875" y="517.84375" style="fill: #0000ff; stroke: #000000; stroke-linejoin: miter"/>
</g>
</g>
<g id="line2d_124">
<g>
<use href="#maf8f67a855" x="410.1875" y="541.375" style="fill: #ffff00; stroke: #000000; stroke-width: 1.5; stroke-linejoin: bevel"/>
</g>
</g>
<g id="line2d_125">
<g>
<use href="#ma61c840edb" x="410.1875" y="565.71875" style="fill: #ffa500; stroke: #000000; stroke-linejoin: miter"/>
</g>
</g>
<g id="line2d_126">
<g>
<use href="#m82f85be40a" x="573.75" y="456.65625" style="fill: #ff00ff; stroke: #000000"/>
</g>
</g>
<g id="line2d_127">
<g>
<use href="#m113b32c53b" x="573.75" y="474" style="fill: #ff0000; stroke: #000000; stroke-linejoin: miter"/>
</g>
</g>
<g id="line2d_128">
<g>
<use href="#m8e54c1c84e" x="573.75" y="494.25" style="fill: #008000; stroke: #000000; stroke-linejoin: miter"/>
</g>
</g>
<g id="line2d_129">
<g>
<use href="#m39f650da0f" x="573.75" y="517.59375" style="fill: #0000ff; stroke: #000000; stroke-linejoin: miter"/>
</g>
</g>
<g id="line2d_130">
<g>
<use href="#maf8f67a855" x="573.75" y="541.125" style="fill: #ffff00; stroke: #000000; stroke-width: 1.5; stroke-linejoin: bevel"/>
</g>
</g>
<g id="line2d_131">
<g>
<use href="#ma61c840edb" x="573.75" y="565.46875" style="fill: #ffa500; stroke: #000000; stroke-linejoin: miter"/>
</g>
</g>
<g id="text_60">
<text style="font-size: 15.375px; font-family: 'DejaVu Sans', 'Liberation Sans', sans-serif; text-anchor: middle" x="265.625" y="13.125" transform="rotate(-0 265.625 13.125)">value of the shooting parameter</text>
</g>
<g id="text_61">
<text style="font-size: 15.375px; font-family: 'DejaVu Sans', 'Liberation Sans', sans-serif; text-anchor: middle" x="760.5" y="12.875" transform="rotate(-0 760.5 12.875)">ADM-mass of the black hole solution</text>
</g>
<g id="text_62">
<g transform="translate(94.025625 435)">
<text>
<tspan x="0" y="-0.609375" style="font-size: 15.375px; font-family: 'DejaVu Sans', 'Liberation Sans', sans-serif">r</tspan>
<tspan x="6.321167" y="-0.609375" style="font-size: 15.375px; font-family: 'DejaVu Sans', 'Liberation Sans', sans-serif">e</tspan>
<tspan x="15.780396" y="-0.609375" style="font-size: 15.375px; font-family: 'DejaVu Sans', 'Liberation Sans', sans-serif">l</tspan>
<tspan x="20.052063" y="-0.609375" style="font-size: 15.375px; font-family: 'DejaVu Sans', 'Liberation Sans', sans-serif">a</tspan>
<tspan x="29.473755" y="-0.609375" style="font-size: 15.375px; font-family: 'DejaVu Sans', 'Liberation Sans', sans-serif">t</tspan>
<tspan x="35.502136" y="-0.609375" style="font-size: 15.375px; font-family: 'DejaVu Sans', 'Liberation Sans', sans-serif">i</tspan>
<tspan x="39.773804" y="-0.609375" style="font-size: 15.375px; font-family: 'DejaVu Sans', 'Liberation Sans', sans-serif">v</tspan>
<tspan x="48.872681" y="-0.609375" style="font-size: 15.375px; font-family: 'DejaVu Sans', 'Liberation Sans', sans-serif">e</tspan>
<tspan x="58.331909" y="-0.609375" style="font-size: 15.375px; font-family: 'DejaVu Sans', 'Liberation Sans', sans-serif"> </tspan>
<tspan x="63.219177" y="-0.609375" style="font-size: 15.375px; font-family: 'DejaVu Sans', 'Liberation Sans', sans-serif">l</tspan>
<tspan x="67.490845" y="-0.609375" style="font-size: 15.375px; font-family: 'DejaVu Sans', 'Liberation Sans', sans-serif">o</tspan>
<tspan x="76.897522" y="-0.609375" style="font-size: 15.375px; font-family: 'DejaVu Sans', 'Liberation Sans', sans-serif">c</tspan>
<tspan x="85.350769" y="-0.609375" style="font-size: 15.375px; font-family: 'DejaVu Sans', 'Liberation Sans', sans-serif">a</tspan>
<tspan x="94.772461" y="-0.609375" style="font-size: 15.375px; font-family: 'DejaVu Sans', 'Liberation Sans', sans-serif">t</tspan>
<tspan x="100.800842" y="-0.609375" style="font-size: 15.375px; font-family: 'DejaVu Sans', 'Liberation Sans', sans-serif">i</tspan>
<tspan x="105.07251" y="-0.609375" style="font-size: 15.375px; font-family: 'DejaVu Sans', 'Liberation Sans', sans-serif">o</tspan>
<tspan x="114.479187" y="-0.609375" style="font-size: 15.375px; font-family: 'DejaVu Sans', 'Liberation Sans', sans-serif">n</tspan>
<tspan x="124.223694" y="-0.609375" style="font-size: 15.375px; font-family: 'DejaVu Sans', 'Liberation Sans', sans-serif"> </tspan>
<tspan x="129.110962" y="-0.609375" style="font-size: 15.375px; font-family: 'DejaVu Sans', 'Liberation Sans', sans-serif">o</tspan>
<tspan x="138.517639" y="-0.609375" style="font-size: 15.375px; font-family: 'DejaVu Sans', 'Liberation Sans', sans-serif">f</tspan>
<tspan x="143.93042" y="-0.609375" style="font-size: 15.375px; font-family: 'DejaVu Sans', 'Liberation Sans', sans-serif"> </tspan>
<tspan x="148.817688" y="-0.609375" style="font-size: 15.375px; font-family: 'DejaVu Sans', 'Liberation Sans', sans-serif">t</tspan>
<tspan x="154.846069" y="-0.609375" style="font-size: 15.375px; font-family: 'DejaVu Sans', 'Liberation Sans', sans-serif">h</tspan>
<tspan x="164.590576" y="-0.609375" style="font-size: 15.375px; font-family: 'DejaVu Sans', 'Liberation Sans', sans-serif">e</tspan>
<tspan x="174.049805" y="-0.609375" style="font-size: 15.375px; font-family: 'DejaVu Sans', 'Liberation Sans', sans-serif"> </tspan>
<tspan x="178.937073" y="-0.609375" style="font-size: 15.375px; font-family: 'DejaVu Sans', 'Liberation Sans', sans-serif">g</tspan>
<tspan x="188.696594" y="-0.609375" style="font-size: 15.375px; font-family: 'DejaVu Sans', 'Liberation Sans', sans-serif">l</tspan>
<tspan x="192.968262" y="-0.609375" style="font-size: 15.375px; font-family: 'DejaVu Sans', 'Liberation Sans', sans-serif">o</tspan>
<tspan x="202.374939" y="-0.609375" style="font-size: 15.375px; font-family: 'DejaVu Sans', 'Liberation Sans', sans-serif">b</tspan>
<tspan x="212.13446" y="-0.609375" style="font-size: 15.375px; font-family: 'DejaVu Sans', 'Liberation Sans', sans-serif">a</tspan>
<tspan x="221.556152" y="-0.609375" style="font-size: 15.375px; font-family: 'DejaVu Sans', 'Liberation Sans', sans-serif">l</tspan>
<tspan x="225.82782" y="-0.609375" style="font-size: 15.375px; font-family: 'DejaVu Sans', 'Liberation Sans', sans-serif"> </tspan>
<tspan x="230.715088" y="-0.609375" style="font-size: 15.375px; font-family: 'DejaVu Sans', 'Liberation Sans', sans-serif">m</tspan>
<tspan x="245.6922" y="-0.609375" style="font-size: 15.375px; font-family: 'DejaVu Sans', 'Liberation Sans', sans-serif">i</tspan>
<tspan x="249.963867" y="-0.609375" style="font-size: 15.375px; font-family: 'DejaVu Sans', 'Liberation Sans', sans-serif">n</tspan>
<tspan x="259.708374" y="-0.609375" style="font-size: 15.375px; font-family: 'DejaVu Sans', 'Liberation Sans', sans-serif">i</tspan>
<tspan x="263.980042" y="-0.609375" style="font-size: 15.375px; font-family: 'DejaVu Sans', 'Liberation Sans', sans-serif">m</tspan>
<tspan x="278.957153" y="-0.609375" style="font-size: 15.375px; font-family: 'DejaVu Sans', 'Liberation Sans', sans-serif">u</tspan>
<tspan x="288.70166" y="-0.609375" style="font-size: 15.375px; font-family: 'DejaVu Sans', 'Liberation Sans', sans-serif">m</tspan>
<tspan x="303.678772" y="-0.609375" style="font-size: 15.375px; font-family: 'DejaVu Sans', 'Liberation Sans', sans-serif"> </tspan>
<tspan x="308.56604" y="-0.609375" style="font-size: 15.375px; font-family: 'DejaVu Sans', 'Liberation Sans', sans-serif">o</tspan>
<tspan x="317.972717" y="-0.609375" style="font-size: 15.375px; font-family: 'DejaVu Sans', 'Liberation Sans', sans-serif">f</tspan>
<tspan x="323.385498" y="-0.609375" style="font-size: 15.375px; font-family: 'DejaVu Sans', 'Liberation Sans', sans-serif"> </tspan>
<tspan x="328.272766" y="-0.609375" style="font-style: oblique; font-size: 15.375px; font-family: 'DejaVu Sans', 'Liberation Sans', sans-serif">m</tspan>
</text>
</g>
</g>
<g id="text_63">
<g transform="translate(665.434375 435)">
<text>
<tspan x="0" y="-0.609375" style="font-size: 15.375px; font-family: 'DejaVu Sans', 'Liberation Sans', sans-serif">g</tspan>
<tspan x="9.759521" y="-0.609375" style="font-size: 15.375px; font-family: 'DejaVu Sans', 'Liberation Sans', sans-serif">l</tspan>
<tspan x="14.031189" y="-0.609375" style="font-size: 15.375px; font-family: 'DejaVu Sans', 'Liberation Sans', sans-serif">o</tspan>
<tspan x="23.437866" y="-0.609375" style="font-size: 15.375px; font-family: 'DejaVu Sans', 'Liberation Sans', sans-serif">b</tspan>
<tspan x="33.197388" y="-0.609375" style="font-size: 15.375px; font-family: 'DejaVu Sans', 'Liberation Sans', sans-serif">a</tspan>
<tspan x="42.61908" y="-0.609375" style="font-size: 15.375px; font-family: 'DejaVu Sans', 'Liberation Sans', sans-serif">l</tspan>
<tspan x="46.890747" y="-0.609375" style="font-size: 15.375px; font-family: 'DejaVu Sans', 'Liberation Sans', sans-serif"> </tspan>
<tspan x="51.778015" y="-0.609375" style="font-size: 15.375px; font-family: 'DejaVu Sans', 'Liberation Sans', sans-serif">m</tspan>
<tspan x="66.755127" y="-0.609375" style="font-size: 15.375px; font-family: 'DejaVu Sans', 'Liberation Sans', sans-serif">i</tspan>
<tspan x="71.026794" y="-0.609375" style="font-size: 15.375px; font-family: 'DejaVu Sans', 'Liberation Sans', sans-serif">n</tspan>
<tspan x="80.771301" y="-0.609375" style="font-size: 15.375px; font-family: 'DejaVu Sans', 'Liberation Sans', sans-serif">i</tspan>
<tspan x="85.042969" y="-0.609375" style="font-size: 15.375px; font-family: 'DejaVu Sans', 'Liberation Sans', sans-serif">m</tspan>
<tspan x="100.020081" y="-0.609375" style="font-size: 15.375px; font-family: 'DejaVu Sans', 'Liberation Sans', sans-serif">u</tspan>
<tspan x="109.764587" y="-0.609375" style="font-size: 15.375px; font-family: 'DejaVu Sans', 'Liberation Sans', sans-serif">m</tspan>
<tspan x="124.741699" y="-0.609375" style="font-size: 15.375px; font-family: 'DejaVu Sans', 'Liberation Sans', sans-serif"> </tspan>
<tspan x="129.628967" y="-0.609375" style="font-size: 15.375px; font-family: 'DejaVu Sans', 'Liberation Sans', sans-serif">o</tspan>
<tspan x="139.035645" y="-0.609375" style="font-size: 15.375px; font-family: 'DejaVu Sans', 'Liberation Sans', sans-serif">f</tspan>
<tspan x="144.448425" y="-0.609375" style="font-size: 15.375px; font-family: 'DejaVu Sans', 'Liberation Sans', sans-serif"> </tspan>
<tspan x="164.312805" y="-0.609375" style="font-size: 15.375px; font-family: 'DejaVu Sans', 'Liberation Sans', sans-serif">(</tspan>
<tspan x="183.863635" y="-0.609375" style="font-size: 15.375px; font-family: 'DejaVu Sans', 'Liberation Sans', sans-serif">)</tspan>
<tspan x="149.335693" y="-0.609375" style="font-style: oblique; font-size: 15.375px; font-family: 'DejaVu Sans', 'Liberation Sans', sans-serif">m</tspan>
<tspan x="170.311157" y="-0.609375" style="font-style: oblique; font-size: 15.375px; font-family: 'DejaVu Sans', 'Liberation Sans', sans-serif">r</tspan>
<tspan x="176.632324" y="1.851562" style="font-style: oblique; font-size: 10.7625px; font-family: 'DejaVu Sans', 'Liberation Sans', sans-serif">h</tspan>
</text>
</g>
</g>
<g id="text_64">
<g transform="translate(223.56 412.3125)">
<text>
<tspan x="0" y="-0.46375" style="font-style: oblique; font-size: 15.1875px; font-family: 'DejaVu Sans', 'Liberation Sans', sans-serif">l</tspan>
<tspan x="4.236938" y="-0.46375" style="font-style: oblique; font-size: 15.1875px; font-family: 'DejaVu Sans', 'Liberation Sans', sans-serif">o</tspan>
<tspan x="13.567139" y="-0.46375" style="font-style: oblique; font-size: 15.1875px; font-family: 'DejaVu Sans', 'Liberation Sans', sans-serif">g</tspan>
<tspan x="54.469888" y="-0.660156" style="font-style: oblique; font-size: 15.1875px; font-family: 'DejaVu Sans', 'Liberation Sans', sans-serif">λ</tspan>
<tspan x="65.393228" y="-0.46375" style="font-style: oblique; font-size: 15.1875px; font-family: 'DejaVu Sans', 'Liberation Sans', sans-serif">r</tspan>
<tspan x="23.247314" y="1.997187" style="font-size: 10.63125px; font-family: 'DejaVu Sans', 'Liberation Sans', sans-serif">1</tspan>
<tspan x="30.039075" y="1.997187" style="font-size: 10.63125px; font-family: 'DejaVu Sans', 'Liberation Sans', sans-serif">0</tspan>
<tspan x="37.240991" y="-0.46375" style="font-size: 15.1875px; font-family: 'DejaVu Sans', 'Liberation Sans', sans-serif">(</tspan>
<tspan x="78.838858" y="-0.46375" style="font-size: 15.1875px; font-family: 'DejaVu Sans', 'Liberation Sans', sans-serif">)</tspan>
<tspan x="71.663004" y="1.997187" style="font-style: oblique; font-size: 10.63125px; font-family: 'DejaVu Sans', 'Liberation Sans', sans-serif">h</tspan>
</text>
<text transform="translate(43.414 -3.426) scale(0.6965 1)" style="font-size: 18.536px; font-family: 'DejaVu Math TeX Gyre', 'Liberation Serif', serif">√</text>
<rect x="51.9465" y="-17.9766" width="15.4468" height="0.9492"/>
</g>
</g>
<g id="text_65">
<g transform="translate(718.56 412.5625)">
<text>
<tspan x="0" y="-0.46375" style="font-style: oblique; font-size: 15.1875px; font-family: 'DejaVu Sans', 'Liberation Sans', sans-serif">l</tspan>
<tspan x="4.236938" y="-0.46375" style="font-style: oblique; font-size: 15.1875px; font-family: 'DejaVu Sans', 'Liberation Sans', sans-serif">o</tspan>
<tspan x="13.567139" y="-0.46375" style="font-style: oblique; font-size: 15.1875px; font-family: 'DejaVu Sans', 'Liberation Sans', sans-serif">g</tspan>
<tspan x="54.469888" y="-0.660156" style="font-style: oblique; font-size: 15.1875px; font-family: 'DejaVu Sans', 'Liberation Sans', sans-serif">λ</tspan>
<tspan x="65.393228" y="-0.46375" style="font-style: oblique; font-size: 15.1875px; font-family: 'DejaVu Sans', 'Liberation Sans', sans-serif">r</tspan>
<tspan x="23.247314" y="1.997187" style="font-size: 10.63125px; font-family: 'DejaVu Sans', 'Liberation Sans', sans-serif">1</tspan>
<tspan x="30.039075" y="1.997187" style="font-size: 10.63125px; font-family: 'DejaVu Sans', 'Liberation Sans', sans-serif">0</tspan>
<tspan x="37.240991" y="-0.46375" style="font-size: 15.1875px; font-family: 'DejaVu Sans', 'Liberation Sans', sans-serif">(</tspan>
<tspan x="78.838858" y="-0.46375" style="font-size: 15.1875px; font-family: 'DejaVu Sans', 'Liberation Sans', sans-serif">)</tspan>
<tspan x="71.663004" y="1.997187" style="font-style: oblique; font-size: 10.63125px; font-family: 'DejaVu Sans', 'Liberation Sans', sans-serif">h</tspan>
</text>
<text transform="translate(43.414 -3.426) scale(0.6965 1)" style="font-size: 18.536px; font-family: 'DejaVu Math TeX Gyre', 'Liberation Serif', serif">√</text>
<rect x="51.9465" y="-17.9766" width="15.4468" height="0.9492"/>
</g>
</g>
<g id="text_66">
<g transform="translate(234.570938 828.875)">
<text>
<tspan x="0" y="-0.609375" style="font-style: oblique; font-size: 15.1875px; font-family: 'DejaVu Sans', 'Liberation Sans', sans-serif">l</tspan>
<tspan x="4.236938" y="-0.609375" style="font-style: oblique; font-size: 15.1875px; font-family: 'DejaVu Sans', 'Liberation Sans', sans-serif">o</tspan>
<tspan x="13.567139" y="-0.609375" style="font-style: oblique; font-size: 15.1875px; font-family: 'DejaVu Sans', 'Liberation Sans', sans-serif">g</tspan>
<tspan x="43.190576" y="-0.609375" style="font-style: oblique; font-size: 15.1875px; font-family: 'DejaVu Sans', 'Liberation Sans', sans-serif">r</tspan>
<tspan x="23.247314" y="1.851562" style="font-size: 10.63125px; font-family: 'DejaVu Sans', 'Liberation Sans', sans-serif">1</tspan>
<tspan x="30.039075" y="1.851562" style="font-size: 10.63125px; font-family: 'DejaVu Sans', 'Liberation Sans', sans-serif">0</tspan>
<tspan x="37.240991" y="-0.609375" style="font-size: 15.1875px; font-family: 'DejaVu Sans', 'Liberation Sans', sans-serif">(</tspan>
<tspan x="56.636206" y="-0.609375" style="font-size: 15.1875px; font-family: 'DejaVu Sans', 'Liberation Sans', sans-serif">)</tspan>
<tspan x="49.460352" y="1.851562" style="font-style: oblique; font-size: 10.63125px; font-family: 'DejaVu Sans', 'Liberation Sans', sans-serif">h</tspan>
</text>
</g>
</g>
<g id="text_67">
<g transform="translate(718.56 834.4375)">
<text>
<tspan x="0" y="-0.46375" style="font-style: oblique; font-size: 15.1875px; font-family: 'DejaVu Sans', 'Liberation Sans', sans-serif">l</tspan>
<tspan x="4.236938" y="-0.46375" style="font-style: oblique; font-size: 15.1875px; font-family: 'DejaVu Sans', 'Liberation Sans', sans-serif">o</tspan>
<tspan x="13.567139" y="-0.46375" style="font-style: oblique; font-size: 15.1875px; font-family: 'DejaVu Sans', 'Liberation Sans', sans-serif">g</tspan>
<tspan x="54.469888" y="-0.660156" style="font-style: oblique; font-size: 15.1875px; font-family: 'DejaVu Sans', 'Liberation Sans', sans-serif">λ</tspan>
<tspan x="65.393228" y="-0.46375" style="font-style: oblique; font-size: 15.1875px; font-family: 'DejaVu Sans', 'Liberation Sans', sans-serif">r</tspan>
<tspan x="23.247314" y="1.997187" style="font-size: 10.63125px; font-family: 'DejaVu Sans', 'Liberation Sans', sans-serif">1</tspan>
<tspan x="30.039075" y="1.997187" style="font-size: 10.63125px; font-family: 'DejaVu Sans', 'Liberation Sans', sans-serif">0</tspan>
<tspan x="37.240991" y="-0.46375" style="font-size: 15.1875px; font-family: 'DejaVu Sans', 'Liberation Sans', sans-serif">(</tspan>
<tspan x="78.838858" y="-0.46375" style="font-size: 15.1875px; font-family: 'DejaVu Sans', 'Liberation Sans', sans-serif">)</tspan>
<tspan x="71.663004" y="1.997187" style="font-style: oblique; font-size: 10.63125px; font-family: 'DejaVu Sans', 'Liberation Sans', sans-serif">h</tspan>
</text>
<text transform="translate(43.414 -3.426) scale(0.6965 1)" style="font-size: 18.536px; font-family: 'DejaVu Math TeX Gyre', 'Liberation Serif', serif">√</text>
<rect x="51.9465" y="-17.9766" width="15.4468" height="0.9492"/>
</g>
</g>
<g id="text_68">
<g transform="translate(20.125 228.987813) rotate(-90)">
<text>
<tspan x="0" y="-0.625" style="font-style: oblique; font-size: 15.1875px; font-family: 'DejaVu Sans', 'Liberation Sans', sans-serif">q</tspan>
<tspan x="45.615088" y="-0.625" style="font-style: oblique; font-size: 15.1875px; font-family: 'DejaVu Sans', 'Liberation Sans', sans-serif">r</tspan>
<tspan x="9.680176" y="1.835938" style="font-style: oblique; font-size: 10.63125px; font-family: 'DejaVu Sans', 'Liberation Sans', sans-serif">s</tspan>
<tspan x="15.241809" y="1.835938" style="font-style: oblique; font-size: 10.63125px; font-family: 'DejaVu Sans', 'Liberation Sans', sans-serif">h</tspan>
<tspan x="22.007507" y="1.835938" style="font-style: oblique; font-size: 10.63125px; font-family: 'DejaVu Sans', 'Liberation Sans', sans-serif">o</tspan>
<tspan x="28.538647" y="1.835938" style="font-style: oblique; font-size: 10.63125px; font-family: 'DejaVu Sans', 'Liberation Sans', sans-serif">o</tspan>
<tspan x="35.069788" y="1.835938" style="font-style: oblique; font-size: 10.63125px; font-family: 'DejaVu Sans', 'Liberation Sans', sans-serif">t</tspan>
<tspan x="51.884863" y="1.835938" style="font-style: oblique; font-size: 10.63125px; font-family: 'DejaVu Sans', 'Liberation Sans', sans-serif">h</tspan>
<tspan x="39.665503" y="-0.625" style="font-size: 15.1875px; font-family: 'DejaVu Sans', 'Liberation Sans', sans-serif">(</tspan>
<tspan x="59.060718" y="-0.625" style="font-size: 15.1875px; font-family: 'DejaVu Sans', 'Liberation Sans', sans-serif">)</tspan>
</text>
</g>
</g>
<g id="text_69">
<g transform="translate(523.75 239.252813) rotate(-90)">
<text>
<tspan x="11.279312" y="-0.660156" style="font-style: oblique; font-size: 15.1875px; font-family: 'DejaVu Sans', 'Liberation Sans', sans-serif">λ</tspan>
<tspan x="22.202652" y="-0.46375" style="font-style: oblique; font-size: 15.1875px; font-family: 'DejaVu Sans', 'Liberation Sans', sans-serif">M</tspan>
<tspan x="66.452835" y="-0.46375" style="font-style: oblique; font-size: 15.1875px; font-family: 'DejaVu Sans', 'Liberation Sans', sans-serif">r</tspan>
<tspan x="35.360245" y="1.997187" style="font-style: oblique; font-size: 10.63125px; font-family: 'DejaVu Sans', 'Liberation Sans', sans-serif">A</tspan>
<tspan x="42.66282" y="1.997187" style="font-style: oblique; font-size: 10.63125px; font-family: 'DejaVu Sans', 'Liberation Sans', sans-serif">D</tspan>
<tspan x="50.882779" y="1.997187" style="font-style: oblique; font-size: 10.63125px; font-family: 'DejaVu Sans', 'Liberation Sans', sans-serif">M</tspan>
<tspan x="72.72261" y="1.997187" style="font-style: oblique; font-size: 10.63125px; font-family: 'DejaVu Sans', 'Liberation Sans', sans-serif">h</tspan>
<tspan x="60.50325" y="-0.46375" style="font-size: 15.1875px; font-family: 'DejaVu Sans', 'Liberation Sans', sans-serif">(</tspan>
<tspan x="79.898465" y="-0.46375" style="font-size: 15.1875px; font-family: 'DejaVu Sans', 'Liberation Sans', sans-serif">)</tspan>
</text>
<text transform="translate(0.223 -3.426) scale(0.6965 1)" style="font-size: 18.536px; font-family: 'DejaVu Math TeX Gyre', 'Liberation Serif', serif">√</text>
<rect x="8.7559" y="-17.9766" width="15.4468" height="0.9492"/>
</g>
</g>
<g id="text_70">
<g transform="translate(20.125 676.324375) rotate(-90)">
<text>
<tspan x="0" y="-0.46375" style="font-style: oblique; font-size: 15.1875px; font-family: 'DejaVu Sans', 'Liberation Sans', sans-serif">l</tspan>
<tspan x="4.236938" y="-0.46375" style="font-style: oblique; font-size: 15.1875px; font-family: 'DejaVu Sans', 'Liberation Sans', sans-serif">o</tspan>
<tspan x="13.567139" y="-0.46375" style="font-style: oblique; font-size: 15.1875px; font-family: 'DejaVu Sans', 'Liberation Sans', sans-serif">g</tspan>
<tspan x="54.469888" y="-0.660156" style="font-style: oblique; font-size: 15.1875px; font-family: 'DejaVu Sans', 'Liberation Sans', sans-serif">λ</tspan>
<tspan x="65.393228" y="-0.46375" style="font-style: oblique; font-size: 15.1875px; font-family: 'DejaVu Sans', 'Liberation Sans', sans-serif">r</tspan>
<tspan x="97.341397" y="-0.46375" style="font-style: oblique; font-size: 15.1875px; font-family: 'DejaVu Sans', 'Liberation Sans', sans-serif">r</tspan>
<tspan x="23.247314" y="1.997187" style="font-size: 10.63125px; font-family: 'DejaVu Sans', 'Liberation Sans', sans-serif">1</tspan>
<tspan x="30.039075" y="1.997187" style="font-size: 10.63125px; font-family: 'DejaVu Sans', 'Liberation Sans', sans-serif">0</tspan>
<tspan x="37.240991" y="-0.46375" style="font-size: 15.1875px; font-family: 'DejaVu Sans', 'Liberation Sans', sans-serif">(</tspan>
<tspan x="92.203458" y="-0.46375" style="font-size: 15.1875px; font-family: 'DejaVu Sans', 'Liberation Sans', sans-serif">/</tspan>
<tspan x="110.787027" y="-0.46375" style="font-size: 15.1875px; font-family: 'DejaVu Sans', 'Liberation Sans', sans-serif">)</tspan>
<tspan x="71.663004" y="1.997187" style="font-style: oblique; font-size: 10.63125px; font-family: 'DejaVu Sans', 'Liberation Sans', sans-serif">m</tspan>
<tspan x="82.061746" y="1.997187" style="font-style: oblique; font-size: 10.63125px; font-family: 'DejaVu Sans', 'Liberation Sans', sans-serif">i</tspan>
<tspan x="85.027603" y="1.997187" style="font-style: oblique; font-size: 10.63125px; font-family: 'DejaVu Sans', 'Liberation Sans', sans-serif">n</tspan>
<tspan x="103.611172" y="1.997187" style="font-style: oblique; font-size: 10.63125px; font-family: 'DejaVu Sans', 'Liberation Sans', sans-serif">h</tspan>
</text>
<text transform="translate(43.414 -3.426) scale(0.6965 1)" style="font-size: 18.536px; font-family: 'DejaVu Math TeX Gyre', 'Liberation Serif', serif">√</text>
<rect x="51.9465" y="-17.9766" width="15.4468" height="0.9492"/>
</g>
</g>
<g id="text_71">
<g transform="translate(515.375 668.74) rotate(-90)">
<text>
<tspan x="11.279312" y="-0.660156" style="font-style: oblique; font-size: 15.1875px; font-family: 'DejaVu Sans', 'Liberation Sans', sans-serif">λ</tspan>
<tspan x="22.202652" y="-0.46375" style="font-style: oblique; font-size: 15.1875px; font-family: 'DejaVu Sans', 'Liberation Sans', sans-serif">m</tspan>
<tspan x="37.057999" y="-0.46375" style="font-style: oblique; font-size: 15.1875px; font-family: 'DejaVu Sans', 'Liberation Sans', sans-serif">i</tspan>
<tspan x="41.294937" y="-0.46375" style="font-style: oblique; font-size: 15.1875px; font-family: 'DejaVu Sans', 'Liberation Sans', sans-serif">n</tspan>
<tspan x="56.909805" y="-0.46375" style="font-style: oblique; font-size: 15.1875px; font-family: 'DejaVu Sans', 'Liberation Sans', sans-serif">m</tspan>
<tspan x="77.714737" y="-0.46375" style="font-style: oblique; font-size: 15.1875px; font-family: 'DejaVu Sans', 'Liberation Sans', sans-serif">r</tspan>
<tspan x="50.96022" y="-0.46375" style="font-size: 15.1875px; font-family: 'DejaVu Sans', 'Liberation Sans', sans-serif">(</tspan>
<tspan x="71.765152" y="-0.46375" style="font-size: 15.1875px; font-family: 'DejaVu Sans', 'Liberation Sans', sans-serif">(</tspan>
<tspan x="91.160367" y="-0.46375" style="font-size: 15.1875px; font-family: 'DejaVu Sans', 'Liberation Sans', sans-serif">)</tspan>
<tspan x="97.109952" y="-0.46375" style="font-size: 15.1875px; font-family: 'DejaVu Sans', 'Liberation Sans', sans-serif">)</tspan>
<tspan x="83.984512" y="1.997187" style="font-style: oblique; font-size: 10.63125px; font-family: 'DejaVu Sans', 'Liberation Sans', sans-serif">h</tspan>
</text>
<text transform="translate(0.223 -3.426) scale(0.6965 1)" style="font-size: 18.536px; font-family: 'DejaVu Math TeX Gyre', 'Liberation Serif', serif">√</text>
<rect x="8.7559" y="-17.9766" width="15.4468" height="0.9492"/>
</g>
</g>
<g id="text_72">
<g transform="translate(97.6875 247.75)">
<text>
<tspan x="0" y="-0.40625" style="font-style: oblique; font-size: 10.1875px; font-family: 'DejaVu Sans', 'Liberation Sans', sans-serif">λ</tspan>
<tspan x="8.062866" y="-0.40625" style="font-size: 10.1875px; font-family: 'DejaVu Sans', 'Liberation Sans', sans-serif">=</tspan>
<tspan x="18.648193" y="-0.40625" style="font-size: 10.1875px; font-family: 'DejaVu Sans', 'Liberation Sans', sans-serif">4</tspan>
</text>
</g>
</g>
<g id="text_73">
<g transform="translate(97.6875 265.25)">
<text>
<tspan x="0" y="-0.40625" style="font-style: oblique; font-size: 10.1875px; font-family: 'DejaVu Sans', 'Liberation Sans', sans-serif">λ</tspan>
<tspan x="8.062866" y="-0.40625" style="font-size: 10.1875px; font-family: 'DejaVu Sans', 'Liberation Sans', sans-serif">=</tspan>
<tspan x="18.648193" y="-0.40625" style="font-size: 10.1875px; font-family: 'DejaVu Sans', 'Liberation Sans', sans-serif">1</tspan>
</text>
</g>
</g>
<g id="text_74">
<g transform="translate(97.6875 283.4375)">
<text>
<tspan x="0" y="-0.485938" style="font-style: oblique; font-size: 10.1875px; font-family: 'DejaVu Sans', 'Liberation Sans', sans-serif">λ</tspan>
<tspan x="8.062866" y="-0.485938" style="font-size: 10.1875px; font-family: 'DejaVu Sans', 'Liberation Sans', sans-serif">=</tspan>
<tspan x="18.648193" y="-4.892188" style="font-size: 7.13125px; font-family: 'DejaVu Sans', 'Liberation Sans', sans-serif">1</tspan>
<tspan x="18.648193" y="3.399219" style="font-size: 7.13125px; font-family: 'DejaVu Sans', 'Liberation Sans', sans-serif">4</tspan>
</text>
<rect x="18.3357" y="-3.3453" width="6.3775" height="0.6367"/>
</g>
</g>
<g id="text_75">
<g transform="translate(97.6875 307.625)">
<text>
<tspan x="0" y="-0.485938" style="font-style: oblique; font-size: 10.1875px; font-family: 'DejaVu Sans', 'Liberation Sans', sans-serif">λ</tspan>
<tspan x="8.062866" y="-0.485938" style="font-size: 10.1875px; font-family: 'DejaVu Sans', 'Liberation Sans', sans-serif">=</tspan>
<tspan x="18.648193" y="3.486719" style="font-size: 7.13125px; font-family: 'DejaVu Sans', 'Liberation Sans', sans-serif">1</tspan>
<tspan x="20.648193" y="-4.892188" style="font-size: 7.13125px; font-family: 'DejaVu Sans', 'Liberation Sans', sans-serif">1</tspan>
<tspan x="23.213147" y="3.486719" style="font-size: 7.13125px; font-family: 'DejaVu Sans', 'Liberation Sans', sans-serif">6</tspan>
</text>
<rect x="18.3357" y="-3.3453" width="10.9424" height="0.6367"/>
</g>
</g>
<g id="text_76">
<g transform="translate(97.6875 331.25)">
<text>
<tspan x="0" y="-0.485938" style="font-style: oblique; font-size: 10.1875px; font-family: 'DejaVu Sans', 'Liberation Sans', sans-serif">λ</tspan>
<tspan x="8.062866" y="-0.485938" style="font-size: 10.1875px; font-family: 'DejaVu Sans', 'Liberation Sans', sans-serif">=</tspan>
<tspan x="18.648193" y="3.486719" style="font-size: 7.13125px; font-family: 'DejaVu Sans', 'Liberation Sans', sans-serif">6</tspan>
<tspan x="20.648193" y="-4.892188" style="font-size: 7.13125px; font-family: 'DejaVu Sans', 'Liberation Sans', sans-serif">1</tspan>
<tspan x="23.213147" y="3.486719" style="font-size: 7.13125px; font-family: 'DejaVu Sans', 'Liberation Sans', sans-serif">4</tspan>
</text>
<rect x="18.3357" y="-3.3453" width="10.9424" height="0.6367"/>
</g>
</g>
<g id="text_77">
<g transform="translate(97.6875 354.5625)">
<text>
<tspan x="0" y="-0.485938" style="font-style: oblique; font-size: 10.1875px; font-family: 'DejaVu Sans', 'Liberation Sans', sans-serif">λ</tspan>
<tspan x="8.062866" y="-0.485938" style="font-size: 10.1875px; font-family: 'DejaVu Sans', 'Liberation Sans', sans-serif">=</tspan>
<tspan x="18.648193" y="3.486719" style="font-size: 7.13125px; font-family: 'DejaVu Sans', 'Liberation Sans', sans-serif">2</tspan>
<tspan x="23.213147" y="3.486719" style="font-size: 7.13125px; font-family: 'DejaVu Sans', 'Liberation Sans', sans-serif">5</tspan>
<tspan x="23.648193" y="-4.892188" style="font-size: 7.13125px; font-family: 'DejaVu Sans', 'Liberation Sans', sans-serif">1</tspan>
<tspan x="27.778101" y="3.486719" style="font-size: 7.13125px; font-family: 'DejaVu Sans', 'Liberation Sans', sans-serif">6</tspan>
</text>
<rect x="18.3357" y="-3.3453" width="15.5074" height="0.6367"/>
</g>
</g>
<g id="text_78">
<g transform="translate(592.5 38.28125)">
<text>
<tspan x="0" y="-0.40625" style="font-style: oblique; font-size: 10.1875px; font-family: 'DejaVu Sans', 'Liberation Sans', sans-serif">λ</tspan>
<tspan x="8.062866" y="-0.40625" style="font-size: 10.1875px; font-family: 'DejaVu Sans', 'Liberation Sans', sans-serif">=</tspan>
<tspan x="18.648193" y="-0.40625" style="font-size: 10.1875px; font-family: 'DejaVu Sans', 'Liberation Sans', sans-serif">4</tspan>
</text>
</g>
</g>
<g id="text_79">
<g transform="translate(592.5 55.625)">
<text>
<tspan x="0" y="-0.40625" style="font-style: oblique; font-size: 10.1875px; font-family: 'DejaVu Sans', 'Liberation Sans', sans-serif">λ</tspan>
<tspan x="8.062866" y="-0.40625" style="font-size: 10.1875px; font-family: 'DejaVu Sans', 'Liberation Sans', sans-serif">=</tspan>
<tspan x="18.648193" y="-0.40625" style="font-size: 10.1875px; font-family: 'DejaVu Sans', 'Liberation Sans', sans-serif">1</tspan>
</text>
</g>
</g>
<g id="text_80">
<g transform="translate(592.5 74.8125)">
<text>
<tspan x="0" y="-0.485938" style="font-style: oblique; font-size: 10.1875px; font-family: 'DejaVu Sans', 'Liberation Sans', sans-serif">λ</tspan>
<tspan x="8.062866" y="-0.485938" style="font-size: 10.1875px; font-family: 'DejaVu Sans', 'Liberation Sans', sans-serif">=</tspan>
<tspan x="18.648193" y="-4.892188" style="font-size: 7.13125px; font-family: 'DejaVu Sans', 'Liberation Sans', sans-serif">1</tspan>
<tspan x="18.648193" y="3.399219" style="font-size: 7.13125px; font-family: 'DejaVu Sans', 'Liberation Sans', sans-serif">4</tspan>
</text>
<rect x="18.3357" y="-3.3453" width="6.3775" height="0.6367"/>
</g>
</g>
<g id="text_81">
<g transform="translate(592.5 98.15625)">
<text>
<tspan x="0" y="-0.485938" style="font-style: oblique; font-size: 10.1875px; font-family: 'DejaVu Sans', 'Liberation Sans', sans-serif">λ</tspan>
<tspan x="8.062866" y="-0.485938" style="font-size: 10.1875px; font-family: 'DejaVu Sans', 'Liberation Sans', sans-serif">=</tspan>
<tspan x="18.648193" y="3.486719" style="font-size: 7.13125px; font-family: 'DejaVu Sans', 'Liberation Sans', sans-serif">1</tspan>
<tspan x="20.648193" y="-4.892188" style="font-size: 7.13125px; font-family: 'DejaVu Sans', 'Liberation Sans', sans-serif">1</tspan>
<tspan x="23.213147" y="3.486719" style="font-size: 7.13125px; font-family: 'DejaVu Sans', 'Liberation Sans', sans-serif">6</tspan>
</text>
<rect x="18.3357" y="-3.3453" width="10.9424" height="0.6367"/>
</g>
</g>
<g id="text_82">
<g transform="translate(592.5 121.6875)">
<text>
<tspan x="0" y="-0.485938" style="font-style: oblique; font-size: 10.1875px; font-family: 'DejaVu Sans', 'Liberation Sans', sans-serif">λ</tspan>
<tspan x="8.062866" y="-0.485938" style="font-size: 10.1875px; font-family: 'DejaVu Sans', 'Liberation Sans', sans-serif">=</tspan>
<tspan x="18.648193" y="3.486719" style="font-size: 7.13125px; font-family: 'DejaVu Sans', 'Liberation Sans', sans-serif">6</tspan>
<tspan x="20.648193" y="-4.892188" style="font-size: 7.13125px; font-family: 'DejaVu Sans', 'Liberation Sans', sans-serif">1</tspan>
<tspan x="23.213147" y="3.486719" style="font-size: 7.13125px; font-family: 'DejaVu Sans', 'Liberation Sans', sans-serif">4</tspan>
</text>
<rect x="18.3357" y="-3.3453" width="10.9424" height="0.6367"/>
</g>
</g>
<g id="text_83">
<g transform="translate(592.5 146.03125)">
<text>
<tspan x="0" y="-0.485938" style="font-style: oblique; font-size: 10.1875px; font-family: 'DejaVu Sans', 'Liberation Sans', sans-serif">λ</tspan>
<tspan x="8.062866" y="-0.485938" style="font-size: 10.1875px; font-family: 'DejaVu Sans', 'Liberation Sans', sans-serif">=</tspan>
<tspan x="18.648193" y="3.486719" style="font-size: 7.13125px; font-family: 'DejaVu Sans', 'Liberation Sans', sans-serif">2</tspan>
<tspan x="23.213147" y="3.486719" style="font-size: 7.13125px; font-family: 'DejaVu Sans', 'Liberation Sans', sans-serif">5</tspan>
<tspan x="23.648193" y="-4.892188" style="font-size: 7.13125px; font-family: 'DejaVu Sans', 'Liberation Sans', sans-serif">1</tspan>
<tspan x="27.778101" y="3.486719" style="font-size: 7.13125px; font-family: 'DejaVu Sans', 'Liberation Sans', sans-serif">6</tspan>
</text>
<rect x="18.3357" y="-3.3453" width="15.5074" height="0.6367"/>
</g>
</g>
<g id="text_84">
<g transform="translate(428.875 460.40625)">
<text>
<tspan x="0" y="-0.40625" style="font-style: oblique; font-size: 10.1875px; font-family: 'DejaVu Sans', 'Liberation Sans', sans-serif">λ</tspan>
<tspan x="8.062866" y="-0.40625" style="font-size: 10.1875px; font-family: 'DejaVu Sans', 'Liberation Sans', sans-serif">=</tspan>
<tspan x="18.648193" y="-0.40625" style="font-size: 10.1875px; font-family: 'DejaVu Sans', 'Liberation Sans', sans-serif">4</tspan>
</text>
</g>
</g>
<g id="text_85">
<g transform="translate(428.875 477.75)">
<text>
<tspan x="0" y="-0.40625" style="font-style: oblique; font-size: 10.1875px; font-family: 'DejaVu Sans', 'Liberation Sans', sans-serif">λ</tspan>
<tspan x="8.062866" y="-0.40625" style="font-size: 10.1875px; font-family: 'DejaVu Sans', 'Liberation Sans', sans-serif">=</tspan>
<tspan x="18.648193" y="-0.40625" style="font-size: 10.1875px; font-family: 'DejaVu Sans', 'Liberation Sans', sans-serif">1</tspan>
</text>
</g>
</g>
<g id="text_86">
<g transform="translate(428.875 496.9375)">
<text>
<tspan x="0" y="-0.485938" style="font-style: oblique; font-size: 10.1875px; font-family: 'DejaVu Sans', 'Liberation Sans', sans-serif">λ</tspan>
<tspan x="8.062866" y="-0.485938" style="font-size: 10.1875px; font-family: 'DejaVu Sans', 'Liberation Sans', sans-serif">=</tspan>
<tspan x="18.648193" y="-4.892188" style="font-size: 7.13125px; font-family: 'DejaVu Sans', 'Liberation Sans', sans-serif">1</tspan>
<tspan x="18.648193" y="3.399219" style="font-size: 7.13125px; font-family: 'DejaVu Sans', 'Liberation Sans', sans-serif">4</tspan>
</text>
<rect x="18.3357" y="-3.3453" width="6.3775" height="0.6367"/>
</g>
</g>
<g id="text_87">
<g transform="translate(428.875 520.28125)">
<text>
<tspan x="0" y="-0.485938" style="font-style: oblique; font-size: 10.1875px; font-family: 'DejaVu Sans', 'Liberation Sans', sans-serif">λ</tspan>
<tspan x="8.062866" y="-0.485938" style="font-size: 10.1875px; font-family: 'DejaVu Sans', 'Liberation Sans', sans-serif">=</tspan>
<tspan x="18.648193" y="3.486719" style="font-size: 7.13125px; font-family: 'DejaVu Sans', 'Liberation Sans', sans-serif">1</tspan>
<tspan x="20.648193" y="-4.892188" style="font-size: 7.13125px; font-family: 'DejaVu Sans', 'Liberation Sans', sans-serif">1</tspan>
<tspan x="23.213147" y="3.486719" style="font-size: 7.13125px; font-family: 'DejaVu Sans', 'Liberation Sans', sans-serif">6</tspan>
</text>
<rect x="18.3357" y="-3.3453" width="10.9424" height="0.6367"/>
</g>
</g>
<g id="text_88">
<g transform="translate(428.875 543.8125)">
<text>
<tspan x="0" y="-0.485938" style="font-style: oblique; font-size: 10.1875px; font-family: 'DejaVu Sans', 'Liberation Sans', sans-serif">λ</tspan>
<tspan x="8.062866" y="-0.485938" style="font-size: 10.1875px; font-family: 'DejaVu Sans', 'Liberation Sans', sans-serif">=</tspan>
<tspan x="18.648193" y="3.486719" style="font-size: 7.13125px; font-family: 'DejaVu Sans', 'Liberation Sans', sans-serif">6</tspan>
<tspan x="20.648193" y="-4.892188" style="font-size: 7.13125px; font-family: 'DejaVu Sans', 'Liberation Sans', sans-serif">1</tspan>
<tspan x="23.213147" y="3.486719" style="font-size: 7.13125px; font-family: 'DejaVu Sans', 'Liberation Sans', sans-serif">4</tspan>
</text>
<rect x="18.3357" y="-3.3453" width="10.9424" height="0.6367"/>
</g>
</g>
<g id="text_89">
<g transform="translate(428.875 568.15625)">
<text>
<tspan x="0" y="-0.485938" style="font-style: oblique; font-size: 10.1875px; font-family: 'DejaVu Sans', 'Liberation Sans', sans-serif">λ</tspan>
<tspan x="8.062866" y="-0.485938" style="font-size: 10.1875px; font-family: 'DejaVu Sans', 'Liberation Sans', sans-serif">=</tspan>
<tspan x="18.648193" y="3.486719" style="font-size: 7.13125px; font-family: 'DejaVu Sans', 'Liberation Sans', sans-serif">2</tspan>
<tspan x="23.213147" y="3.486719" style="font-size: 7.13125px; font-family: 'DejaVu Sans', 'Liberation Sans', sans-serif">5</tspan>
<tspan x="23.648193" y="-4.892188" style="font-size: 7.13125px; font-family: 'DejaVu Sans', 'Liberation Sans', sans-serif">1</tspan>
<tspan x="27.778101" y="3.486719" style="font-size: 7.13125px; font-family: 'DejaVu Sans', 'Liberation Sans', sans-serif">6</tspan>
</text>
<rect x="18.3357" y="-3.3453" width="15.5074" height="0.6367"/>
</g>
</g>
<g id="text_90">
<g transform="translate(592.4375 460.15625)">
<text>
<tspan x="0" y="-0.40625" style="font-style: oblique; font-size: 10.1875px; font-family: 'DejaVu Sans', 'Liberation Sans', sans-serif">λ</tspan>
<tspan x="8.062866" y="-0.40625" style="font-size: 10.1875px; font-family: 'DejaVu Sans', 'Liberation Sans', sans-serif">=</tspan>
<tspan x="18.648193" y="-0.40625" style="font-size: 10.1875px; font-family: 'DejaVu Sans', 'Liberation Sans', sans-serif">4</tspan>
</text>
</g>
</g>
<g id="text_91">
<g transform="translate(592.4375 477.5)">
<text>
<tspan x="0" y="-0.40625" style="font-style: oblique; font-size: 10.1875px; font-family: 'DejaVu Sans', 'Liberation Sans', sans-serif">λ</tspan>
<tspan x="8.062866" y="-0.40625" style="font-size: 10.1875px; font-family: 'DejaVu Sans', 'Liberation Sans', sans-serif">=</tspan>
<tspan x="18.648193" y="-0.40625" style="font-size: 10.1875px; font-family: 'DejaVu Sans', 'Liberation Sans', sans-serif">1</tspan>
</text>
</g>
</g>
<g id="text_92">
<g transform="translate(592.4375 496.6875)">
<text>
<tspan x="0" y="-0.485938" style="font-style: oblique; font-size: 10.1875px; font-family: 'DejaVu Sans', 'Liberation Sans', sans-serif">λ</tspan>
<tspan x="8.062866" y="-0.485938" style="font-size: 10.1875px; font-family: 'DejaVu Sans', 'Liberation Sans', sans-serif">=</tspan>
<tspan x="18.648193" y="-4.892188" style="font-size: 7.13125px; font-family: 'DejaVu Sans', 'Liberation Sans', sans-serif">1</tspan>
<tspan x="18.648193" y="3.399219" style="font-size: 7.13125px; font-family: 'DejaVu Sans', 'Liberation Sans', sans-serif">4</tspan>
</text>
<rect x="18.3357" y="-3.3453" width="6.3775" height="0.6367"/>
</g>
</g>
<g id="text_93">
<g transform="translate(592.4375 520.03125)">
<text>
<tspan x="0" y="-0.485938" style="font-style: oblique; font-size: 10.1875px; font-family: 'DejaVu Sans', 'Liberation Sans', sans-serif">λ</tspan>
<tspan x="8.062866" y="-0.485938" style="font-size: 10.1875px; font-family: 'DejaVu Sans', 'Liberation Sans', sans-serif">=</tspan>
<tspan x="18.648193" y="3.486719" style="font-size: 7.13125px; font-family: 'DejaVu Sans', 'Liberation Sans', sans-serif">1</tspan>
<tspan x="20.648193" y="-4.892188" style="font-size: 7.13125px; font-family: 'DejaVu Sans', 'Liberation Sans', sans-serif">1</tspan>
<tspan x="23.213147" y="3.486719" style="font-size: 7.13125px; font-family: 'DejaVu Sans', 'Liberation Sans', sans-serif">6</tspan>
</text>
<rect x="18.3357" y="-3.3453" width="10.9424" height="0.6367"/>
</g>
</g>
<g id="text_94">
<g transform="translate(592.4375 543.5625)">
<text>
<tspan x="0" y="-0.485938" style="font-style: oblique; font-size: 10.1875px; font-family: 'DejaVu Sans', 'Liberation Sans', sans-serif">λ</tspan>
<tspan x="8.062866" y="-0.485938" style="font-size: 10.1875px; font-family: 'DejaVu Sans', 'Liberation Sans', sans-serif">=</tspan>
<tspan x="18.648193" y="3.486719" style="font-size: 7.13125px; font-family: 'DejaVu Sans', 'Liberation Sans', sans-serif">6</tspan>
<tspan x="20.648193" y="-4.892188" style="font-size: 7.13125px; font-family: 'DejaVu Sans', 'Liberation Sans', sans-serif">1</tspan>
<tspan x="23.213147" y="3.486719" style="font-size: 7.13125px; font-family: 'DejaVu Sans', 'Liberation Sans', sans-serif">4</tspan>
</text>
<rect x="18.3357" y="-3.3453" width="10.9424" height="0.6367"/>
</g>
</g>
<g id="text_95">
<g transform="translate(592.4375 567.90625)">
<text>
<tspan x="0" y="-0.485938" style="font-style: oblique; font-size: 10.1875px; font-family: 'DejaVu Sans', 'Liberation Sans', sans-serif">λ</tspan>
<tspan x="8.062866" y="-0.485938" style="font-size: 10.1875px; font-family: 'DejaVu Sans', 'Liberation Sans', sans-serif">=</tspan>
<tspan x="18.648193" y="3.486719" style="font-size: 7.13125px; font-family: 'DejaVu Sans', 'Liberation Sans', sans-serif">2</tspan>
<tspan x="23.213147" y="3.486719" style="font-size: 7.13125px; font-family: 'DejaVu Sans', 'Liberation Sans', sans-serif">5</tspan>
<tspan x="23.648193" y="-4.892188" style="font-size: 7.13125px; font-family: 'DejaVu Sans', 'Liberation Sans', sans-serif">1</tspan>
<tspan x="27.778101" y="3.486719" style="font-size: 7.13125px; font-family: 'DejaVu Sans', 'Liberation Sans', sans-serif">6</tspan>
</text>
<rect x="18.3357" y="-3.3453" width="15.5074" height="0.6367"/>
</g>
</g>
</g>
<defs>
<clipPath id="p4364399349">
<rect x="59.4375" y="19.75" width="412.6875" height="351.625"/>
</clipPath>
<clipPath id="pfdedd26349">
<rect x="554.4375" y="19.75" width="412.6875" height="351.625"/>
</clipPath>
<clipPath id="pe15c4dde0f">
<rect x="59.4375" y="441.625" width="412.6875" height="351.5625"/>
</clipPath>
<clipPath id="pc6f23633e6">
<rect x="554.4375" y="441.625" width="412.6875" height="351.5625"/>
</clipPath>
</defs>
</svg>

</div></body></html>
